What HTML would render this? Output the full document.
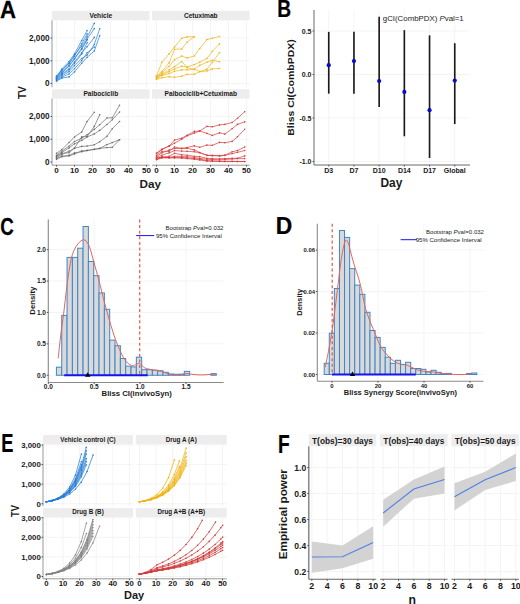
<!DOCTYPE html>
<html><head><meta charset="utf-8"><style>
html,body{margin:0;padding:0;background:#fff;width:520px;height:604px;overflow:hidden;}
svg{display:block;}
text{font-family:"Liberation Sans",sans-serif;}
</style></head><body>
<svg width="520" height="604" viewBox="0 0 520 604">
<rect width="520" height="604" fill="#fff"/>
<text x="0" y="0" font-size="23.837" font-weight="bold" fill="#000" stroke="#000" stroke-width="0.25" transform="translate(-0.06 17.50) scale(0.9316 1)">A</text>
<rect x="52.00" y="10.90" width="97.60" height="9.50" fill="#ededed" stroke="none" stroke-width="0"/>
<text x="100.8" y="18.2" font-size="6.6" font-weight="bold" text-anchor="middle" fill="#1a1a1a">Vehicle</text>
<line x1="56.50" y1="20.40" x2="56.50" y2="87.20" stroke="#ececec" stroke-width="0.6"/>
<line x1="74.50" y1="20.40" x2="74.50" y2="87.20" stroke="#ececec" stroke-width="0.6"/>
<line x1="92.50" y1="20.40" x2="92.50" y2="87.20" stroke="#ececec" stroke-width="0.6"/>
<line x1="110.50" y1="20.40" x2="110.50" y2="87.20" stroke="#ececec" stroke-width="0.6"/>
<line x1="128.50" y1="20.40" x2="128.50" y2="87.20" stroke="#ececec" stroke-width="0.6"/>
<line x1="146.50" y1="20.40" x2="146.50" y2="87.20" stroke="#ececec" stroke-width="0.6"/>
<line x1="52.00" y1="83.50" x2="149.60" y2="83.50" stroke="#ececec" stroke-width="0.6"/>
<line x1="52.00" y1="60.75" x2="149.60" y2="60.75" stroke="#ececec" stroke-width="0.6"/>
<line x1="52.00" y1="38.00" x2="149.60" y2="38.00" stroke="#ececec" stroke-width="0.6"/>
<line x1="52.00" y1="20.40" x2="52.00" y2="87.20" stroke="#8c8c8c" stroke-width="0.9"/>
<line x1="50.50" y1="83.50" x2="52.00" y2="83.50" stroke="#333" stroke-width="0.8"/>
<text x="49.5" y="86.4" font-size="8.2" font-weight="bold" text-anchor="end" fill="#1a1a1a">0</text>
<line x1="50.50" y1="60.75" x2="52.00" y2="60.75" stroke="#333" stroke-width="0.8"/>
<text x="49.5" y="63.65" font-size="8.2" font-weight="bold" text-anchor="end" fill="#1a1a1a">1,000</text>
<line x1="50.50" y1="38.00" x2="52.00" y2="38.00" stroke="#333" stroke-width="0.8"/>
<text x="49.5" y="40.9" font-size="8.2" font-weight="bold" text-anchor="end" fill="#1a1a1a">2,000</text>
<polyline points="56.50,76.67 61.90,68.94 69.10,61.43 74.50,53.92 81.70,40.50 87.10,30.61" fill="none" stroke="#2a7fd4" stroke-width="0.7"/>
<circle cx="56.50" cy="76.67" r="0.8" fill="#2a7fd4"/>
<circle cx="61.90" cy="68.94" r="0.8" fill="#2a7fd4"/>
<circle cx="69.10" cy="61.43" r="0.8" fill="#2a7fd4"/>
<circle cx="74.50" cy="53.92" r="0.8" fill="#2a7fd4"/>
<circle cx="81.70" cy="40.50" r="0.8" fill="#2a7fd4"/>
<circle cx="87.10" cy="30.61" r="0.8" fill="#2a7fd4"/>
<polyline points="56.50,77.13 61.90,70.76 69.10,63.48 74.50,56.20 81.70,43.69 87.10,33.91" fill="none" stroke="#2a7fd4" stroke-width="0.7"/>
<circle cx="56.50" cy="77.13" r="0.8" fill="#2a7fd4"/>
<circle cx="61.90" cy="70.76" r="0.8" fill="#2a7fd4"/>
<circle cx="69.10" cy="63.48" r="0.8" fill="#2a7fd4"/>
<circle cx="74.50" cy="56.20" r="0.8" fill="#2a7fd4"/>
<circle cx="81.70" cy="43.69" r="0.8" fill="#2a7fd4"/>
<circle cx="87.10" cy="33.91" r="0.8" fill="#2a7fd4"/>
<polyline points="56.50,75.99 61.90,69.85 69.10,63.03 74.50,55.06 81.70,45.96 87.10,36.86 94.30,23.39" fill="none" stroke="#2a7fd4" stroke-width="0.7"/>
<circle cx="56.50" cy="75.99" r="0.8" fill="#2a7fd4"/>
<circle cx="61.90" cy="69.85" r="0.8" fill="#2a7fd4"/>
<circle cx="69.10" cy="63.03" r="0.8" fill="#2a7fd4"/>
<circle cx="74.50" cy="55.06" r="0.8" fill="#2a7fd4"/>
<circle cx="81.70" cy="45.96" r="0.8" fill="#2a7fd4"/>
<circle cx="87.10" cy="36.86" r="0.8" fill="#2a7fd4"/>
<circle cx="94.30" cy="23.39" r="0.8" fill="#2a7fd4"/>
<polyline points="56.50,77.81 61.90,72.12 69.10,65.30 74.50,58.48 81.70,48.24 87.10,39.14 94.30,28.60" fill="none" stroke="#2a7fd4" stroke-width="0.7"/>
<circle cx="56.50" cy="77.81" r="0.8" fill="#2a7fd4"/>
<circle cx="61.90" cy="72.12" r="0.8" fill="#2a7fd4"/>
<circle cx="69.10" cy="65.30" r="0.8" fill="#2a7fd4"/>
<circle cx="74.50" cy="58.48" r="0.8" fill="#2a7fd4"/>
<circle cx="81.70" cy="48.24" r="0.8" fill="#2a7fd4"/>
<circle cx="87.10" cy="39.14" r="0.8" fill="#2a7fd4"/>
<circle cx="94.30" cy="28.60" r="0.8" fill="#2a7fd4"/>
<polyline points="56.50,78.95 61.90,73.94 69.10,68.71 74.50,61.89 81.70,52.79 87.10,46.80 94.30,37.41" fill="none" stroke="#2a7fd4" stroke-width="0.7"/>
<circle cx="56.50" cy="78.95" r="0.8" fill="#2a7fd4"/>
<circle cx="61.90" cy="73.94" r="0.8" fill="#2a7fd4"/>
<circle cx="69.10" cy="68.71" r="0.8" fill="#2a7fd4"/>
<circle cx="74.50" cy="61.89" r="0.8" fill="#2a7fd4"/>
<circle cx="81.70" cy="52.79" r="0.8" fill="#2a7fd4"/>
<circle cx="87.10" cy="46.80" r="0.8" fill="#2a7fd4"/>
<circle cx="94.30" cy="37.41" r="0.8" fill="#2a7fd4"/>
<polyline points="56.50,79.86 61.90,75.99 69.10,71.67 74.50,65.75 81.70,58.48 87.10,55.11 94.30,44.51 99.70,28.70" fill="none" stroke="#2a7fd4" stroke-width="0.7"/>
<circle cx="56.50" cy="79.86" r="0.8" fill="#2a7fd4"/>
<circle cx="61.90" cy="75.99" r="0.8" fill="#2a7fd4"/>
<circle cx="69.10" cy="71.67" r="0.8" fill="#2a7fd4"/>
<circle cx="74.50" cy="65.75" r="0.8" fill="#2a7fd4"/>
<circle cx="81.70" cy="58.48" r="0.8" fill="#2a7fd4"/>
<circle cx="87.10" cy="55.11" r="0.8" fill="#2a7fd4"/>
<circle cx="94.30" cy="44.51" r="0.8" fill="#2a7fd4"/>
<circle cx="99.70" cy="28.70" r="0.8" fill="#2a7fd4"/>
<polyline points="56.50,81.22 61.90,78.20 69.10,76.90 74.50,71.90 81.70,63.21 87.10,57.34 94.30,50.99 99.70,35.70" fill="none" stroke="#2a7fd4" stroke-width="0.7"/>
<circle cx="56.50" cy="81.22" r="0.8" fill="#2a7fd4"/>
<circle cx="61.90" cy="78.20" r="0.8" fill="#2a7fd4"/>
<circle cx="69.10" cy="76.90" r="0.8" fill="#2a7fd4"/>
<circle cx="74.50" cy="71.90" r="0.8" fill="#2a7fd4"/>
<circle cx="81.70" cy="63.21" r="0.8" fill="#2a7fd4"/>
<circle cx="87.10" cy="57.34" r="0.8" fill="#2a7fd4"/>
<circle cx="94.30" cy="50.99" r="0.8" fill="#2a7fd4"/>
<circle cx="99.70" cy="35.70" r="0.8" fill="#2a7fd4"/>
<polyline points="56.50,78.27 61.90,73.03 69.10,66.21 74.50,58.93 81.70,49.38 87.10,39.91" fill="none" stroke="#2a7fd4" stroke-width="0.7"/>
<circle cx="56.50" cy="78.27" r="0.8" fill="#2a7fd4"/>
<circle cx="61.90" cy="73.03" r="0.8" fill="#2a7fd4"/>
<circle cx="69.10" cy="66.21" r="0.8" fill="#2a7fd4"/>
<circle cx="74.50" cy="58.93" r="0.8" fill="#2a7fd4"/>
<circle cx="81.70" cy="49.38" r="0.8" fill="#2a7fd4"/>
<circle cx="87.10" cy="39.91" r="0.8" fill="#2a7fd4"/>
<polyline points="56.50,79.41 61.90,74.86 69.10,69.85 74.50,63.48 81.70,53.92 87.10,42.80" fill="none" stroke="#2a7fd4" stroke-width="0.7"/>
<circle cx="56.50" cy="79.41" r="0.8" fill="#2a7fd4"/>
<circle cx="61.90" cy="74.86" r="0.8" fill="#2a7fd4"/>
<circle cx="69.10" cy="69.85" r="0.8" fill="#2a7fd4"/>
<circle cx="74.50" cy="63.48" r="0.8" fill="#2a7fd4"/>
<circle cx="81.70" cy="53.92" r="0.8" fill="#2a7fd4"/>
<circle cx="87.10" cy="42.80" r="0.8" fill="#2a7fd4"/>
<polyline points="56.50,80.54 61.90,77.13 69.10,73.94 74.50,68.71 81.70,60.75 87.10,52.79 94.30,47.10" fill="none" stroke="#2a7fd4" stroke-width="0.7"/>
<circle cx="56.50" cy="80.54" r="0.8" fill="#2a7fd4"/>
<circle cx="61.90" cy="77.13" r="0.8" fill="#2a7fd4"/>
<circle cx="69.10" cy="73.94" r="0.8" fill="#2a7fd4"/>
<circle cx="74.50" cy="68.71" r="0.8" fill="#2a7fd4"/>
<circle cx="81.70" cy="60.75" r="0.8" fill="#2a7fd4"/>
<circle cx="87.10" cy="52.79" r="0.8" fill="#2a7fd4"/>
<circle cx="94.30" cy="47.10" r="0.8" fill="#2a7fd4"/>
<rect x="152.00" y="10.90" width="97.60" height="9.50" fill="#ededed" stroke="none" stroke-width="0"/>
<text x="200.8" y="18.2" font-size="6.6" font-weight="bold" text-anchor="middle" fill="#1a1a1a">Cetuximab</text>
<line x1="156.50" y1="20.40" x2="156.50" y2="87.20" stroke="#ececec" stroke-width="0.6"/>
<line x1="174.50" y1="20.40" x2="174.50" y2="87.20" stroke="#ececec" stroke-width="0.6"/>
<line x1="192.50" y1="20.40" x2="192.50" y2="87.20" stroke="#ececec" stroke-width="0.6"/>
<line x1="210.50" y1="20.40" x2="210.50" y2="87.20" stroke="#ececec" stroke-width="0.6"/>
<line x1="228.50" y1="20.40" x2="228.50" y2="87.20" stroke="#ececec" stroke-width="0.6"/>
<line x1="246.50" y1="20.40" x2="246.50" y2="87.20" stroke="#ececec" stroke-width="0.6"/>
<line x1="152.00" y1="83.50" x2="249.60" y2="83.50" stroke="#ececec" stroke-width="0.6"/>
<line x1="152.00" y1="60.75" x2="249.60" y2="60.75" stroke="#ececec" stroke-width="0.6"/>
<line x1="152.00" y1="38.00" x2="249.60" y2="38.00" stroke="#ececec" stroke-width="0.6"/>
<polyline points="156.50,75.90 161.90,62.30 169.10,53.90 174.50,47.01 181.70,38.30 187.10,36.86 194.30,36.70" fill="none" stroke="#eeb414" stroke-width="0.7"/>
<circle cx="156.50" cy="75.90" r="0.8" fill="#eeb414"/>
<circle cx="161.90" cy="62.30" r="0.8" fill="#eeb414"/>
<circle cx="169.10" cy="53.90" r="0.8" fill="#eeb414"/>
<circle cx="174.50" cy="47.01" r="0.8" fill="#eeb414"/>
<circle cx="181.70" cy="38.30" r="0.8" fill="#eeb414"/>
<circle cx="187.10" cy="36.86" r="0.8" fill="#eeb414"/>
<circle cx="194.30" cy="36.70" r="0.8" fill="#eeb414"/>
<polyline points="156.50,76.38 161.90,71.60 169.10,62.91 174.50,49.31 181.70,49.01 187.10,42.09 194.30,36.70" fill="none" stroke="#eeb414" stroke-width="0.7"/>
<circle cx="156.50" cy="76.38" r="0.8" fill="#eeb414"/>
<circle cx="161.90" cy="71.60" r="0.8" fill="#eeb414"/>
<circle cx="169.10" cy="62.91" r="0.8" fill="#eeb414"/>
<circle cx="174.50" cy="49.31" r="0.8" fill="#eeb414"/>
<circle cx="181.70" cy="49.01" r="0.8" fill="#eeb414"/>
<circle cx="187.10" cy="42.09" r="0.8" fill="#eeb414"/>
<circle cx="194.30" cy="36.70" r="0.8" fill="#eeb414"/>
<polyline points="156.50,76.90 161.90,72.58 169.10,66.44 174.50,59.70 181.70,56.00 187.10,57.91 194.30,56.00 199.70,48.51 206.90,39.59 212.30,38.20 219.50,36.50" fill="none" stroke="#eeb414" stroke-width="0.7"/>
<circle cx="156.50" cy="76.90" r="0.8" fill="#eeb414"/>
<circle cx="161.90" cy="72.58" r="0.8" fill="#eeb414"/>
<circle cx="169.10" cy="66.44" r="0.8" fill="#eeb414"/>
<circle cx="174.50" cy="59.70" r="0.8" fill="#eeb414"/>
<circle cx="181.70" cy="56.00" r="0.8" fill="#eeb414"/>
<circle cx="187.10" cy="57.91" r="0.8" fill="#eeb414"/>
<circle cx="194.30" cy="56.00" r="0.8" fill="#eeb414"/>
<circle cx="199.70" cy="48.51" r="0.8" fill="#eeb414"/>
<circle cx="206.90" cy="39.59" r="0.8" fill="#eeb414"/>
<circle cx="212.30" cy="38.20" r="0.8" fill="#eeb414"/>
<circle cx="219.50" cy="36.50" r="0.8" fill="#eeb414"/>
<polyline points="156.50,77.58 161.90,73.94 169.10,69.85 174.50,66.60 181.70,61.50 187.10,67.58 194.30,69.39 199.70,65.39 206.90,62.21 212.30,60.30 219.50,61.71" fill="none" stroke="#eeb414" stroke-width="0.7"/>
<circle cx="156.50" cy="77.58" r="0.8" fill="#eeb414"/>
<circle cx="161.90" cy="73.94" r="0.8" fill="#eeb414"/>
<circle cx="169.10" cy="69.85" r="0.8" fill="#eeb414"/>
<circle cx="174.50" cy="66.60" r="0.8" fill="#eeb414"/>
<circle cx="181.70" cy="61.50" r="0.8" fill="#eeb414"/>
<circle cx="187.10" cy="67.58" r="0.8" fill="#eeb414"/>
<circle cx="194.30" cy="69.39" r="0.8" fill="#eeb414"/>
<circle cx="199.70" cy="65.39" r="0.8" fill="#eeb414"/>
<circle cx="206.90" cy="62.21" r="0.8" fill="#eeb414"/>
<circle cx="212.30" cy="60.30" r="0.8" fill="#eeb414"/>
<circle cx="219.50" cy="61.71" r="0.8" fill="#eeb414"/>
<polyline points="156.50,78.04 161.90,74.86 169.10,71.67 174.50,68.94 181.70,66.21 187.10,67.01 194.30,64.59 199.70,62.21 206.90,58.41 212.30,51.31 219.50,43.89" fill="none" stroke="#eeb414" stroke-width="0.7"/>
<circle cx="156.50" cy="78.04" r="0.8" fill="#eeb414"/>
<circle cx="161.90" cy="74.86" r="0.8" fill="#eeb414"/>
<circle cx="169.10" cy="71.67" r="0.8" fill="#eeb414"/>
<circle cx="174.50" cy="68.94" r="0.8" fill="#eeb414"/>
<circle cx="181.70" cy="66.21" r="0.8" fill="#eeb414"/>
<circle cx="187.10" cy="67.01" r="0.8" fill="#eeb414"/>
<circle cx="194.30" cy="64.59" r="0.8" fill="#eeb414"/>
<circle cx="199.70" cy="62.21" r="0.8" fill="#eeb414"/>
<circle cx="206.90" cy="58.41" r="0.8" fill="#eeb414"/>
<circle cx="212.30" cy="51.31" r="0.8" fill="#eeb414"/>
<circle cx="219.50" cy="43.89" r="0.8" fill="#eeb414"/>
<polyline points="156.50,78.50 161.90,75.54 169.10,73.60 174.50,71.31 181.70,69.90 187.10,69.85 194.30,69.39 199.70,71.51 206.90,69.19 212.30,62.21 219.50,52.61" fill="none" stroke="#eeb414" stroke-width="0.7"/>
<circle cx="156.50" cy="78.50" r="0.8" fill="#eeb414"/>
<circle cx="161.90" cy="75.54" r="0.8" fill="#eeb414"/>
<circle cx="169.10" cy="73.60" r="0.8" fill="#eeb414"/>
<circle cx="174.50" cy="71.31" r="0.8" fill="#eeb414"/>
<circle cx="181.70" cy="69.90" r="0.8" fill="#eeb414"/>
<circle cx="187.10" cy="69.85" r="0.8" fill="#eeb414"/>
<circle cx="194.30" cy="69.39" r="0.8" fill="#eeb414"/>
<circle cx="199.70" cy="71.51" r="0.8" fill="#eeb414"/>
<circle cx="206.90" cy="69.19" r="0.8" fill="#eeb414"/>
<circle cx="212.30" cy="62.21" r="0.8" fill="#eeb414"/>
<circle cx="219.50" cy="52.61" r="0.8" fill="#eeb414"/>
<polyline points="156.50,79.41 161.90,77.81 169.10,76.67 174.50,77.29 181.70,76.20 187.10,74.40 194.30,74.20 199.70,71.81 206.90,70.90 212.30,68.89 219.50,68.51" fill="none" stroke="#eeb414" stroke-width="0.7"/>
<circle cx="156.50" cy="79.41" r="0.8" fill="#eeb414"/>
<circle cx="161.90" cy="77.81" r="0.8" fill="#eeb414"/>
<circle cx="169.10" cy="76.67" r="0.8" fill="#eeb414"/>
<circle cx="174.50" cy="77.29" r="0.8" fill="#eeb414"/>
<circle cx="181.70" cy="76.20" r="0.8" fill="#eeb414"/>
<circle cx="187.10" cy="74.40" r="0.8" fill="#eeb414"/>
<circle cx="194.30" cy="74.20" r="0.8" fill="#eeb414"/>
<circle cx="199.70" cy="71.81" r="0.8" fill="#eeb414"/>
<circle cx="206.90" cy="70.90" r="0.8" fill="#eeb414"/>
<circle cx="212.30" cy="68.89" r="0.8" fill="#eeb414"/>
<circle cx="219.50" cy="68.51" r="0.8" fill="#eeb414"/>
<rect x="52.00" y="89.30" width="97.60" height="9.30" fill="#ededed" stroke="none" stroke-width="0"/>
<text x="100.8" y="96.39999999999999" font-size="6.6" font-weight="bold" text-anchor="middle" fill="#1a1a1a">Palbociclib</text>
<line x1="56.50" y1="98.60" x2="56.50" y2="165.20" stroke="#ececec" stroke-width="0.6"/>
<line x1="74.50" y1="98.60" x2="74.50" y2="165.20" stroke="#ececec" stroke-width="0.6"/>
<line x1="92.50" y1="98.60" x2="92.50" y2="165.20" stroke="#ececec" stroke-width="0.6"/>
<line x1="110.50" y1="98.60" x2="110.50" y2="165.20" stroke="#ececec" stroke-width="0.6"/>
<line x1="128.50" y1="98.60" x2="128.50" y2="165.20" stroke="#ececec" stroke-width="0.6"/>
<line x1="146.50" y1="98.60" x2="146.50" y2="165.20" stroke="#ececec" stroke-width="0.6"/>
<line x1="52.00" y1="162.00" x2="149.60" y2="162.00" stroke="#ececec" stroke-width="0.6"/>
<line x1="52.00" y1="139.25" x2="149.60" y2="139.25" stroke="#ececec" stroke-width="0.6"/>
<line x1="52.00" y1="116.50" x2="149.60" y2="116.50" stroke="#ececec" stroke-width="0.6"/>
<line x1="52.00" y1="98.60" x2="52.00" y2="165.20" stroke="#8c8c8c" stroke-width="0.9"/>
<line x1="50.50" y1="162.00" x2="52.00" y2="162.00" stroke="#333" stroke-width="0.8"/>
<text x="49.5" y="164.9" font-size="8.2" font-weight="bold" text-anchor="end" fill="#1a1a1a">0</text>
<line x1="50.50" y1="139.25" x2="52.00" y2="139.25" stroke="#333" stroke-width="0.8"/>
<text x="49.5" y="142.15" font-size="8.2" font-weight="bold" text-anchor="end" fill="#1a1a1a">1,000</text>
<line x1="50.50" y1="116.50" x2="52.00" y2="116.50" stroke="#333" stroke-width="0.8"/>
<text x="49.5" y="119.4" font-size="8.2" font-weight="bold" text-anchor="end" fill="#1a1a1a">2,000</text>
<line x1="52.00" y1="165.20" x2="149.60" y2="165.20" stroke="#8c8c8c" stroke-width="0.9"/>
<line x1="56.50" y1="165.20" x2="56.50" y2="166.70" stroke="#333" stroke-width="0.8"/>
<text x="56.5" y="172.89999999999998" font-size="8.0" font-weight="bold" text-anchor="middle" fill="#1a1a1a">0</text>
<line x1="74.50" y1="165.20" x2="74.50" y2="166.70" stroke="#333" stroke-width="0.8"/>
<text x="74.5" y="172.89999999999998" font-size="8.0" font-weight="bold" text-anchor="middle" fill="#1a1a1a">10</text>
<line x1="92.50" y1="165.20" x2="92.50" y2="166.70" stroke="#333" stroke-width="0.8"/>
<text x="92.5" y="172.89999999999998" font-size="8.0" font-weight="bold" text-anchor="middle" fill="#1a1a1a">20</text>
<line x1="110.50" y1="165.20" x2="110.50" y2="166.70" stroke="#333" stroke-width="0.8"/>
<text x="110.5" y="172.89999999999998" font-size="8.0" font-weight="bold" text-anchor="middle" fill="#1a1a1a">30</text>
<line x1="128.50" y1="165.20" x2="128.50" y2="166.70" stroke="#333" stroke-width="0.8"/>
<text x="128.5" y="172.89999999999998" font-size="8.0" font-weight="bold" text-anchor="middle" fill="#1a1a1a">40</text>
<line x1="146.50" y1="165.20" x2="146.50" y2="166.70" stroke="#333" stroke-width="0.8"/>
<text x="146.5" y="172.89999999999998" font-size="8.0" font-weight="bold" text-anchor="middle" fill="#1a1a1a">50</text>
<polyline points="56.50,153.35 61.90,149.49 69.10,142.44 74.50,136.97 81.70,131.97 87.10,121.50 94.30,112.18" fill="none" stroke="#6b6b6b" stroke-width="0.7"/>
<circle cx="56.50" cy="153.35" r="0.8" fill="#6b6b6b"/>
<circle cx="61.90" cy="149.49" r="0.8" fill="#6b6b6b"/>
<circle cx="69.10" cy="142.44" r="0.8" fill="#6b6b6b"/>
<circle cx="74.50" cy="136.97" r="0.8" fill="#6b6b6b"/>
<circle cx="81.70" cy="131.97" r="0.8" fill="#6b6b6b"/>
<circle cx="87.10" cy="121.50" r="0.8" fill="#6b6b6b"/>
<circle cx="94.30" cy="112.18" r="0.8" fill="#6b6b6b"/>
<polyline points="56.50,156.20 61.90,153.31 69.10,152.81 74.50,148.01 81.70,136.91 87.10,136.50 94.30,126.40 99.70,114.79" fill="none" stroke="#6b6b6b" stroke-width="0.7"/>
<circle cx="56.50" cy="156.20" r="0.8" fill="#6b6b6b"/>
<circle cx="61.90" cy="153.31" r="0.8" fill="#6b6b6b"/>
<circle cx="69.10" cy="152.81" r="0.8" fill="#6b6b6b"/>
<circle cx="74.50" cy="148.01" r="0.8" fill="#6b6b6b"/>
<circle cx="81.70" cy="136.91" r="0.8" fill="#6b6b6b"/>
<circle cx="87.10" cy="136.50" r="0.8" fill="#6b6b6b"/>
<circle cx="94.30" cy="126.40" r="0.8" fill="#6b6b6b"/>
<circle cx="99.70" cy="114.79" r="0.8" fill="#6b6b6b"/>
<polyline points="56.50,155.18 61.90,151.08 69.10,146.07 74.50,141.53 81.70,138.11 87.10,134.70 94.30,129.40 99.70,124.80 106.90,118.00 112.30,117.80 119.50,105.31" fill="none" stroke="#6b6b6b" stroke-width="0.7"/>
<circle cx="56.50" cy="155.18" r="0.8" fill="#6b6b6b"/>
<circle cx="61.90" cy="151.08" r="0.8" fill="#6b6b6b"/>
<circle cx="69.10" cy="146.07" r="0.8" fill="#6b6b6b"/>
<circle cx="74.50" cy="141.53" r="0.8" fill="#6b6b6b"/>
<circle cx="81.70" cy="138.11" r="0.8" fill="#6b6b6b"/>
<circle cx="87.10" cy="134.70" r="0.8" fill="#6b6b6b"/>
<circle cx="94.30" cy="129.40" r="0.8" fill="#6b6b6b"/>
<circle cx="99.70" cy="124.80" r="0.8" fill="#6b6b6b"/>
<circle cx="106.90" cy="118.00" r="0.8" fill="#6b6b6b"/>
<circle cx="112.30" cy="117.80" r="0.8" fill="#6b6b6b"/>
<circle cx="119.50" cy="105.31" r="0.8" fill="#6b6b6b"/>
<polyline points="56.50,156.31 61.90,152.44 69.10,147.90 74.50,143.80 81.70,140.39 87.10,136.97 94.30,133.90 99.70,130.40 106.90,124.51 112.30,119.80 119.50,112.00" fill="none" stroke="#6b6b6b" stroke-width="0.7"/>
<circle cx="56.50" cy="156.31" r="0.8" fill="#6b6b6b"/>
<circle cx="61.90" cy="152.44" r="0.8" fill="#6b6b6b"/>
<circle cx="69.10" cy="147.90" r="0.8" fill="#6b6b6b"/>
<circle cx="74.50" cy="143.80" r="0.8" fill="#6b6b6b"/>
<circle cx="81.70" cy="140.39" r="0.8" fill="#6b6b6b"/>
<circle cx="87.10" cy="136.97" r="0.8" fill="#6b6b6b"/>
<circle cx="94.30" cy="133.90" r="0.8" fill="#6b6b6b"/>
<circle cx="99.70" cy="130.40" r="0.8" fill="#6b6b6b"/>
<circle cx="106.90" cy="124.51" r="0.8" fill="#6b6b6b"/>
<circle cx="112.30" cy="119.80" r="0.8" fill="#6b6b6b"/>
<circle cx="119.50" cy="112.00" r="0.8" fill="#6b6b6b"/>
<polyline points="56.50,157.45 61.90,154.49 69.10,151.08 74.50,148.35 81.70,146.39 87.10,146.07 94.30,144.80 99.70,141.71 106.90,136.41 112.30,128.69 119.50,121.50" fill="none" stroke="#6b6b6b" stroke-width="0.7"/>
<circle cx="56.50" cy="157.45" r="0.8" fill="#6b6b6b"/>
<circle cx="61.90" cy="154.49" r="0.8" fill="#6b6b6b"/>
<circle cx="69.10" cy="151.08" r="0.8" fill="#6b6b6b"/>
<circle cx="74.50" cy="148.35" r="0.8" fill="#6b6b6b"/>
<circle cx="81.70" cy="146.39" r="0.8" fill="#6b6b6b"/>
<circle cx="87.10" cy="146.07" r="0.8" fill="#6b6b6b"/>
<circle cx="94.30" cy="144.80" r="0.8" fill="#6b6b6b"/>
<circle cx="99.70" cy="141.71" r="0.8" fill="#6b6b6b"/>
<circle cx="106.90" cy="136.41" r="0.8" fill="#6b6b6b"/>
<circle cx="112.30" cy="128.69" r="0.8" fill="#6b6b6b"/>
<circle cx="119.50" cy="121.50" r="0.8" fill="#6b6b6b"/>
<polyline points="56.50,158.59 61.90,155.99 69.10,155.99 74.50,154.04 81.70,150.90 87.10,150.40 94.30,149.31 99.70,148.60 106.90,144.60 112.30,142.59 119.50,139.71" fill="none" stroke="#6b6b6b" stroke-width="0.7"/>
<circle cx="56.50" cy="158.59" r="0.8" fill="#6b6b6b"/>
<circle cx="61.90" cy="155.99" r="0.8" fill="#6b6b6b"/>
<circle cx="69.10" cy="155.99" r="0.8" fill="#6b6b6b"/>
<circle cx="74.50" cy="154.04" r="0.8" fill="#6b6b6b"/>
<circle cx="81.70" cy="150.90" r="0.8" fill="#6b6b6b"/>
<circle cx="87.10" cy="150.40" r="0.8" fill="#6b6b6b"/>
<circle cx="94.30" cy="149.31" r="0.8" fill="#6b6b6b"/>
<circle cx="99.70" cy="148.60" r="0.8" fill="#6b6b6b"/>
<circle cx="106.90" cy="144.60" r="0.8" fill="#6b6b6b"/>
<circle cx="112.30" cy="142.59" r="0.8" fill="#6b6b6b"/>
<circle cx="119.50" cy="139.71" r="0.8" fill="#6b6b6b"/>
<polyline points="56.50,159.27 61.90,156.77 69.10,155.18 74.50,152.90 81.70,151.76 87.10,150.62 94.30,149.40 99.70,148.30 106.90,147.60 112.30,147.30 119.50,139.71" fill="none" stroke="#6b6b6b" stroke-width="0.7"/>
<circle cx="56.50" cy="159.27" r="0.8" fill="#6b6b6b"/>
<circle cx="61.90" cy="156.77" r="0.8" fill="#6b6b6b"/>
<circle cx="69.10" cy="155.18" r="0.8" fill="#6b6b6b"/>
<circle cx="74.50" cy="152.90" r="0.8" fill="#6b6b6b"/>
<circle cx="81.70" cy="151.76" r="0.8" fill="#6b6b6b"/>
<circle cx="87.10" cy="150.62" r="0.8" fill="#6b6b6b"/>
<circle cx="94.30" cy="149.40" r="0.8" fill="#6b6b6b"/>
<circle cx="99.70" cy="148.30" r="0.8" fill="#6b6b6b"/>
<circle cx="106.90" cy="147.60" r="0.8" fill="#6b6b6b"/>
<circle cx="112.30" cy="147.30" r="0.8" fill="#6b6b6b"/>
<circle cx="119.50" cy="139.71" r="0.8" fill="#6b6b6b"/>
<rect x="152.00" y="89.30" width="97.60" height="9.30" fill="#ededed" stroke="none" stroke-width="0"/>
<text x="200.8" y="96.39999999999999" font-size="6.6" font-weight="bold" text-anchor="middle" fill="#1a1a1a">Palbociclib+Cetuximab</text>
<line x1="156.50" y1="98.60" x2="156.50" y2="165.20" stroke="#ececec" stroke-width="0.6"/>
<line x1="174.50" y1="98.60" x2="174.50" y2="165.20" stroke="#ececec" stroke-width="0.6"/>
<line x1="192.50" y1="98.60" x2="192.50" y2="165.20" stroke="#ececec" stroke-width="0.6"/>
<line x1="210.50" y1="98.60" x2="210.50" y2="165.20" stroke="#ececec" stroke-width="0.6"/>
<line x1="228.50" y1="98.60" x2="228.50" y2="165.20" stroke="#ececec" stroke-width="0.6"/>
<line x1="246.50" y1="98.60" x2="246.50" y2="165.20" stroke="#ececec" stroke-width="0.6"/>
<line x1="152.00" y1="162.00" x2="249.60" y2="162.00" stroke="#ececec" stroke-width="0.6"/>
<line x1="152.00" y1="139.25" x2="249.60" y2="139.25" stroke="#ececec" stroke-width="0.6"/>
<line x1="152.00" y1="116.50" x2="249.60" y2="116.50" stroke="#ececec" stroke-width="0.6"/>
<line x1="152.00" y1="165.20" x2="249.60" y2="165.20" stroke="#8c8c8c" stroke-width="0.9"/>
<line x1="156.50" y1="165.20" x2="156.50" y2="166.70" stroke="#333" stroke-width="0.8"/>
<text x="156.5" y="172.89999999999998" font-size="8.0" font-weight="bold" text-anchor="middle" fill="#1a1a1a">0</text>
<line x1="174.50" y1="165.20" x2="174.50" y2="166.70" stroke="#333" stroke-width="0.8"/>
<text x="174.5" y="172.89999999999998" font-size="8.0" font-weight="bold" text-anchor="middle" fill="#1a1a1a">10</text>
<line x1="192.50" y1="165.20" x2="192.50" y2="166.70" stroke="#333" stroke-width="0.8"/>
<text x="192.5" y="172.89999999999998" font-size="8.0" font-weight="bold" text-anchor="middle" fill="#1a1a1a">20</text>
<line x1="210.50" y1="165.20" x2="210.50" y2="166.70" stroke="#333" stroke-width="0.8"/>
<text x="210.5" y="172.89999999999998" font-size="8.0" font-weight="bold" text-anchor="middle" fill="#1a1a1a">30</text>
<line x1="228.50" y1="165.20" x2="228.50" y2="166.70" stroke="#333" stroke-width="0.8"/>
<text x="228.5" y="172.89999999999998" font-size="8.0" font-weight="bold" text-anchor="middle" fill="#1a1a1a">40</text>
<line x1="246.50" y1="165.20" x2="246.50" y2="166.70" stroke="#333" stroke-width="0.8"/>
<text x="246.5" y="172.89999999999998" font-size="8.0" font-weight="bold" text-anchor="middle" fill="#1a1a1a">50</text>
<polyline points="156.50,153.31 161.90,149.40 169.10,146.10 174.50,140.09 181.70,138.20 187.10,135.29 194.30,131.40 199.70,130.99 206.90,126.40 212.30,126.81 219.50,124.89 224.90,124.39 232.10,122.51 237.50,118.30 244.70,111.70" fill="none" stroke="#d23c3c" stroke-width="0.7"/>
<circle cx="156.50" cy="153.31" r="0.8" fill="#d23c3c"/>
<circle cx="161.90" cy="149.40" r="0.8" fill="#d23c3c"/>
<circle cx="169.10" cy="146.10" r="0.8" fill="#d23c3c"/>
<circle cx="174.50" cy="140.09" r="0.8" fill="#d23c3c"/>
<circle cx="181.70" cy="138.20" r="0.8" fill="#d23c3c"/>
<circle cx="187.10" cy="135.29" r="0.8" fill="#d23c3c"/>
<circle cx="194.30" cy="131.40" r="0.8" fill="#d23c3c"/>
<circle cx="199.70" cy="130.99" r="0.8" fill="#d23c3c"/>
<circle cx="206.90" cy="126.40" r="0.8" fill="#d23c3c"/>
<circle cx="212.30" cy="126.81" r="0.8" fill="#d23c3c"/>
<circle cx="219.50" cy="124.89" r="0.8" fill="#d23c3c"/>
<circle cx="224.90" cy="124.39" r="0.8" fill="#d23c3c"/>
<circle cx="232.10" cy="122.51" r="0.8" fill="#d23c3c"/>
<circle cx="237.50" cy="118.30" r="0.8" fill="#d23c3c"/>
<circle cx="244.70" cy="111.70" r="0.8" fill="#d23c3c"/>
<polyline points="156.50,153.31 161.90,149.40 169.10,146.10 174.50,143.21 181.70,139.25 187.10,135.84 194.30,133.11 199.70,130.99 206.90,133.40 212.30,135.41 219.50,132.90 224.90,134.11 232.10,128.69 237.50,124.39 244.70,121.89" fill="none" stroke="#d23c3c" stroke-width="0.7"/>
<circle cx="156.50" cy="153.31" r="0.8" fill="#d23c3c"/>
<circle cx="161.90" cy="149.40" r="0.8" fill="#d23c3c"/>
<circle cx="169.10" cy="146.10" r="0.8" fill="#d23c3c"/>
<circle cx="174.50" cy="143.21" r="0.8" fill="#d23c3c"/>
<circle cx="181.70" cy="139.25" r="0.8" fill="#d23c3c"/>
<circle cx="187.10" cy="135.84" r="0.8" fill="#d23c3c"/>
<circle cx="194.30" cy="133.11" r="0.8" fill="#d23c3c"/>
<circle cx="199.70" cy="130.99" r="0.8" fill="#d23c3c"/>
<circle cx="206.90" cy="133.40" r="0.8" fill="#d23c3c"/>
<circle cx="212.30" cy="135.41" r="0.8" fill="#d23c3c"/>
<circle cx="219.50" cy="132.90" r="0.8" fill="#d23c3c"/>
<circle cx="224.90" cy="134.11" r="0.8" fill="#d23c3c"/>
<circle cx="232.10" cy="128.69" r="0.8" fill="#d23c3c"/>
<circle cx="237.50" cy="124.39" r="0.8" fill="#d23c3c"/>
<circle cx="244.70" cy="121.89" r="0.8" fill="#d23c3c"/>
<polyline points="156.50,155.18 161.90,151.31 169.10,151.35 174.50,147.01 181.70,148.51 187.10,147.51 194.30,145.89 199.70,147.30 206.90,145.10 212.30,145.30 219.50,142.39 224.90,142.71 232.10,141.41 237.50,136.79 244.70,129.31" fill="none" stroke="#d23c3c" stroke-width="0.7"/>
<circle cx="156.50" cy="155.18" r="0.8" fill="#d23c3c"/>
<circle cx="161.90" cy="151.31" r="0.8" fill="#d23c3c"/>
<circle cx="169.10" cy="151.35" r="0.8" fill="#d23c3c"/>
<circle cx="174.50" cy="147.01" r="0.8" fill="#d23c3c"/>
<circle cx="181.70" cy="148.51" r="0.8" fill="#d23c3c"/>
<circle cx="187.10" cy="147.51" r="0.8" fill="#d23c3c"/>
<circle cx="194.30" cy="145.89" r="0.8" fill="#d23c3c"/>
<circle cx="199.70" cy="147.30" r="0.8" fill="#d23c3c"/>
<circle cx="206.90" cy="145.10" r="0.8" fill="#d23c3c"/>
<circle cx="212.30" cy="145.30" r="0.8" fill="#d23c3c"/>
<circle cx="219.50" cy="142.39" r="0.8" fill="#d23c3c"/>
<circle cx="224.90" cy="142.71" r="0.8" fill="#d23c3c"/>
<circle cx="232.10" cy="141.41" r="0.8" fill="#d23c3c"/>
<circle cx="237.50" cy="136.79" r="0.8" fill="#d23c3c"/>
<circle cx="244.70" cy="129.31" r="0.8" fill="#d23c3c"/>
<polyline points="156.50,156.31 161.90,152.90 169.10,150.17 174.50,148.51 181.70,148.35 187.10,148.35 194.30,149.90 199.70,152.49 206.90,155.40 212.30,155.70 219.50,155.90 224.90,155.40 232.10,151.81 237.50,150.51 244.70,147.10" fill="none" stroke="#d23c3c" stroke-width="0.7"/>
<circle cx="156.50" cy="156.31" r="0.8" fill="#d23c3c"/>
<circle cx="161.90" cy="152.90" r="0.8" fill="#d23c3c"/>
<circle cx="169.10" cy="150.17" r="0.8" fill="#d23c3c"/>
<circle cx="174.50" cy="148.51" r="0.8" fill="#d23c3c"/>
<circle cx="181.70" cy="148.35" r="0.8" fill="#d23c3c"/>
<circle cx="187.10" cy="148.35" r="0.8" fill="#d23c3c"/>
<circle cx="194.30" cy="149.90" r="0.8" fill="#d23c3c"/>
<circle cx="199.70" cy="152.49" r="0.8" fill="#d23c3c"/>
<circle cx="206.90" cy="155.40" r="0.8" fill="#d23c3c"/>
<circle cx="212.30" cy="155.70" r="0.8" fill="#d23c3c"/>
<circle cx="219.50" cy="155.90" r="0.8" fill="#d23c3c"/>
<circle cx="224.90" cy="155.40" r="0.8" fill="#d23c3c"/>
<circle cx="232.10" cy="151.81" r="0.8" fill="#d23c3c"/>
<circle cx="237.50" cy="150.51" r="0.8" fill="#d23c3c"/>
<circle cx="244.70" cy="147.10" r="0.8" fill="#d23c3c"/>
<polyline points="156.50,157.45 161.90,155.18 169.10,152.90 174.50,150.62 181.70,151.08 187.10,151.35 194.30,151.76 199.70,152.81 206.90,155.18 212.30,155.40 219.50,155.63 224.90,155.18 232.10,153.61 237.50,152.31 244.70,150.51" fill="none" stroke="#d23c3c" stroke-width="0.7"/>
<circle cx="156.50" cy="157.45" r="0.8" fill="#d23c3c"/>
<circle cx="161.90" cy="155.18" r="0.8" fill="#d23c3c"/>
<circle cx="169.10" cy="152.90" r="0.8" fill="#d23c3c"/>
<circle cx="174.50" cy="150.62" r="0.8" fill="#d23c3c"/>
<circle cx="181.70" cy="151.08" r="0.8" fill="#d23c3c"/>
<circle cx="187.10" cy="151.35" r="0.8" fill="#d23c3c"/>
<circle cx="194.30" cy="151.76" r="0.8" fill="#d23c3c"/>
<circle cx="199.70" cy="152.81" r="0.8" fill="#d23c3c"/>
<circle cx="206.90" cy="155.18" r="0.8" fill="#d23c3c"/>
<circle cx="212.30" cy="155.40" r="0.8" fill="#d23c3c"/>
<circle cx="219.50" cy="155.63" r="0.8" fill="#d23c3c"/>
<circle cx="224.90" cy="155.18" r="0.8" fill="#d23c3c"/>
<circle cx="232.10" cy="153.61" r="0.8" fill="#d23c3c"/>
<circle cx="237.50" cy="152.31" r="0.8" fill="#d23c3c"/>
<circle cx="244.70" cy="150.51" r="0.8" fill="#d23c3c"/>
<polyline points="156.50,157.91 161.90,157.00 169.10,156.31 174.50,153.31 181.70,154.70 187.10,155.20 194.30,156.31 199.70,156.61 206.90,158.36 212.30,158.59 219.50,158.81 224.90,158.59 232.10,158.36 237.50,158.29 244.70,155.90" fill="none" stroke="#d23c3c" stroke-width="0.7"/>
<circle cx="156.50" cy="157.91" r="0.8" fill="#d23c3c"/>
<circle cx="161.90" cy="157.00" r="0.8" fill="#d23c3c"/>
<circle cx="169.10" cy="156.31" r="0.8" fill="#d23c3c"/>
<circle cx="174.50" cy="153.31" r="0.8" fill="#d23c3c"/>
<circle cx="181.70" cy="154.70" r="0.8" fill="#d23c3c"/>
<circle cx="187.10" cy="155.20" r="0.8" fill="#d23c3c"/>
<circle cx="194.30" cy="156.31" r="0.8" fill="#d23c3c"/>
<circle cx="199.70" cy="156.61" r="0.8" fill="#d23c3c"/>
<circle cx="206.90" cy="158.36" r="0.8" fill="#d23c3c"/>
<circle cx="212.30" cy="158.59" r="0.8" fill="#d23c3c"/>
<circle cx="219.50" cy="158.81" r="0.8" fill="#d23c3c"/>
<circle cx="224.90" cy="158.59" r="0.8" fill="#d23c3c"/>
<circle cx="232.10" cy="158.36" r="0.8" fill="#d23c3c"/>
<circle cx="237.50" cy="158.29" r="0.8" fill="#d23c3c"/>
<circle cx="244.70" cy="155.90" r="0.8" fill="#d23c3c"/>
<polyline points="156.50,158.59 161.90,157.11 169.10,157.61 174.50,156.31 181.70,156.31 187.10,156.77 194.30,157.45 199.70,158.41 206.90,159.27 212.30,159.50 219.50,159.72 224.90,159.50 232.10,159.04 237.50,158.61 244.70,158.61" fill="none" stroke="#d23c3c" stroke-width="0.7"/>
<circle cx="156.50" cy="158.59" r="0.8" fill="#d23c3c"/>
<circle cx="161.90" cy="157.11" r="0.8" fill="#d23c3c"/>
<circle cx="169.10" cy="157.61" r="0.8" fill="#d23c3c"/>
<circle cx="174.50" cy="156.31" r="0.8" fill="#d23c3c"/>
<circle cx="181.70" cy="156.31" r="0.8" fill="#d23c3c"/>
<circle cx="187.10" cy="156.77" r="0.8" fill="#d23c3c"/>
<circle cx="194.30" cy="157.45" r="0.8" fill="#d23c3c"/>
<circle cx="199.70" cy="158.41" r="0.8" fill="#d23c3c"/>
<circle cx="206.90" cy="159.27" r="0.8" fill="#d23c3c"/>
<circle cx="212.30" cy="159.50" r="0.8" fill="#d23c3c"/>
<circle cx="219.50" cy="159.72" r="0.8" fill="#d23c3c"/>
<circle cx="224.90" cy="159.50" r="0.8" fill="#d23c3c"/>
<circle cx="232.10" cy="159.04" r="0.8" fill="#d23c3c"/>
<circle cx="237.50" cy="158.61" r="0.8" fill="#d23c3c"/>
<circle cx="244.70" cy="158.61" r="0.8" fill="#d23c3c"/>
<polyline points="156.50,159.27 161.90,157.45 169.10,157.45 174.50,157.45 181.70,157.45 187.10,157.91 194.30,158.59 199.70,159.11 206.90,160.63 212.30,160.86 219.50,161.09 224.90,161.32 232.10,161.32 237.50,161.43 244.70,161.50" fill="none" stroke="#d23c3c" stroke-width="0.7"/>
<circle cx="156.50" cy="159.27" r="0.8" fill="#d23c3c"/>
<circle cx="161.90" cy="157.45" r="0.8" fill="#d23c3c"/>
<circle cx="169.10" cy="157.45" r="0.8" fill="#d23c3c"/>
<circle cx="174.50" cy="157.45" r="0.8" fill="#d23c3c"/>
<circle cx="181.70" cy="157.45" r="0.8" fill="#d23c3c"/>
<circle cx="187.10" cy="157.91" r="0.8" fill="#d23c3c"/>
<circle cx="194.30" cy="158.59" r="0.8" fill="#d23c3c"/>
<circle cx="199.70" cy="159.11" r="0.8" fill="#d23c3c"/>
<circle cx="206.90" cy="160.63" r="0.8" fill="#d23c3c"/>
<circle cx="212.30" cy="160.86" r="0.8" fill="#d23c3c"/>
<circle cx="219.50" cy="161.09" r="0.8" fill="#d23c3c"/>
<circle cx="224.90" cy="161.32" r="0.8" fill="#d23c3c"/>
<circle cx="232.10" cy="161.32" r="0.8" fill="#d23c3c"/>
<circle cx="237.50" cy="161.43" r="0.8" fill="#d23c3c"/>
<circle cx="244.70" cy="161.50" r="0.8" fill="#d23c3c"/>
<polyline points="156.50,159.72 161.90,157.91 169.10,157.91 174.50,157.91 181.70,158.13 187.10,158.59 194.30,159.27 199.70,160.00 206.90,161.09 212.30,161.32 219.50,161.43 224.90,161.54 232.10,161.54 237.50,161.54 244.70,161.54" fill="none" stroke="#d23c3c" stroke-width="0.7"/>
<circle cx="156.50" cy="159.72" r="0.8" fill="#d23c3c"/>
<circle cx="161.90" cy="157.91" r="0.8" fill="#d23c3c"/>
<circle cx="169.10" cy="157.91" r="0.8" fill="#d23c3c"/>
<circle cx="174.50" cy="157.91" r="0.8" fill="#d23c3c"/>
<circle cx="181.70" cy="158.13" r="0.8" fill="#d23c3c"/>
<circle cx="187.10" cy="158.59" r="0.8" fill="#d23c3c"/>
<circle cx="194.30" cy="159.27" r="0.8" fill="#d23c3c"/>
<circle cx="199.70" cy="160.00" r="0.8" fill="#d23c3c"/>
<circle cx="206.90" cy="161.09" r="0.8" fill="#d23c3c"/>
<circle cx="212.30" cy="161.32" r="0.8" fill="#d23c3c"/>
<circle cx="219.50" cy="161.43" r="0.8" fill="#d23c3c"/>
<circle cx="224.90" cy="161.54" r="0.8" fill="#d23c3c"/>
<circle cx="232.10" cy="161.54" r="0.8" fill="#d23c3c"/>
<circle cx="237.50" cy="161.54" r="0.8" fill="#d23c3c"/>
<circle cx="244.70" cy="161.54" r="0.8" fill="#d23c3c"/>
<text x="0" y="0" font-size="11.607" font-weight="bold" fill="#1a1a1a" transform="translate(139.51 187.99) scale(1.0121 1)">Day</text>
<text x="0" y="0" font-size="11.192" font-weight="bold" fill="#1a1a1a" transform="translate(25.90 99.11) rotate(-90) scale(0.9006 1)">TV</text>
<text x="0" y="0" font-size="23.256" font-weight="bold" fill="#000" stroke="#000" stroke-width="0.25" transform="translate(277.31 16.50) scale(0.8248 1)">B</text>
<line x1="314.00" y1="31.00" x2="470.00" y2="31.00" stroke="#ececec" stroke-width="0.6"/>
<line x1="314.00" y1="74.50" x2="470.00" y2="74.50" stroke="#ececec" stroke-width="0.6"/>
<line x1="314.00" y1="118.00" x2="470.00" y2="118.00" stroke="#ececec" stroke-width="0.6"/>
<line x1="314.00" y1="161.50" x2="470.00" y2="161.50" stroke="#ececec" stroke-width="0.6"/>
<line x1="328.75" y1="10.00" x2="328.75" y2="165.00" stroke="#ececec" stroke-width="0.6"/>
<line x1="353.95" y1="10.00" x2="353.95" y2="165.00" stroke="#ececec" stroke-width="0.6"/>
<line x1="379.15" y1="10.00" x2="379.15" y2="165.00" stroke="#ececec" stroke-width="0.6"/>
<line x1="404.35" y1="10.00" x2="404.35" y2="165.00" stroke="#ececec" stroke-width="0.6"/>
<line x1="429.55" y1="10.00" x2="429.55" y2="165.00" stroke="#ececec" stroke-width="0.6"/>
<line x1="454.75" y1="10.00" x2="454.75" y2="165.00" stroke="#ececec" stroke-width="0.6"/>
<line x1="314.00" y1="10.00" x2="314.00" y2="165.00" stroke="#6a6a6a" stroke-width="1.0"/>
<line x1="314.00" y1="165.00" x2="470.00" y2="165.00" stroke="#6a6a6a" stroke-width="1.0"/>
<line x1="312.50" y1="31.00" x2="314.00" y2="31.00" stroke="#333" stroke-width="0.8"/>
<text x="311.5" y="33.5" font-size="7" font-weight="bold" text-anchor="end" fill="#1a1a1a">0.5</text>
<line x1="312.50" y1="74.50" x2="314.00" y2="74.50" stroke="#333" stroke-width="0.8"/>
<text x="311.5" y="77.0" font-size="7" font-weight="bold" text-anchor="end" fill="#1a1a1a">0.0</text>
<line x1="312.50" y1="118.00" x2="314.00" y2="118.00" stroke="#333" stroke-width="0.8"/>
<text x="311.5" y="120.5" font-size="7" font-weight="bold" text-anchor="end" fill="#1a1a1a">-0.5</text>
<line x1="312.50" y1="161.50" x2="314.00" y2="161.50" stroke="#333" stroke-width="0.8"/>
<text x="311.5" y="164.0" font-size="7" font-weight="bold" text-anchor="end" fill="#1a1a1a">-1.0</text>
<line x1="328.75" y1="165.00" x2="328.75" y2="166.50" stroke="#333" stroke-width="0.8"/>
<text x="328.75" y="173" font-size="7" font-weight="bold" text-anchor="middle" fill="#1a1a1a">D3</text>
<line x1="328.75" y1="31.87" x2="328.75" y2="93.64" stroke="#1a1a1a" stroke-width="1.65"/>
<circle cx="328.75" cy="65.19" r="2.1" fill="#0a0ac8"/>
<line x1="353.95" y1="165.00" x2="353.95" y2="166.50" stroke="#333" stroke-width="0.8"/>
<text x="353.95" y="173" font-size="7" font-weight="bold" text-anchor="middle" fill="#1a1a1a">D7</text>
<line x1="353.95" y1="31.87" x2="353.95" y2="93.64" stroke="#1a1a1a" stroke-width="1.65"/>
<circle cx="353.95" cy="61.10" r="2.1" fill="#0a0ac8"/>
<line x1="379.15" y1="165.00" x2="379.15" y2="166.50" stroke="#333" stroke-width="0.8"/>
<text x="379.15" y="173" font-size="7" font-weight="bold" text-anchor="middle" fill="#1a1a1a">D10</text>
<line x1="379.15" y1="16.64" x2="379.15" y2="107.12" stroke="#1a1a1a" stroke-width="1.65"/>
<circle cx="379.15" cy="81.03" r="2.1" fill="#0a0ac8"/>
<line x1="404.35" y1="165.00" x2="404.35" y2="166.50" stroke="#333" stroke-width="0.8"/>
<text x="404.35" y="173" font-size="7" font-weight="bold" text-anchor="middle" fill="#1a1a1a">D14</text>
<line x1="404.35" y1="30.13" x2="404.35" y2="136.27" stroke="#1a1a1a" stroke-width="1.65"/>
<circle cx="404.35" cy="91.90" r="2.1" fill="#0a0ac8"/>
<line x1="429.55" y1="165.00" x2="429.55" y2="166.50" stroke="#333" stroke-width="0.8"/>
<text x="429.55" y="173" font-size="7" font-weight="bold" text-anchor="middle" fill="#1a1a1a">D17</text>
<line x1="429.55" y1="35.35" x2="429.55" y2="158.02" stroke="#1a1a1a" stroke-width="1.65"/>
<circle cx="429.55" cy="110.17" r="2.1" fill="#0a0ac8"/>
<line x1="454.75" y1="165.00" x2="454.75" y2="166.50" stroke="#333" stroke-width="0.8"/>
<text x="454.75" y="173" font-size="7" font-weight="bold" text-anchor="middle" fill="#1a1a1a">Global</text>
<line x1="454.75" y1="43.18" x2="454.75" y2="124.09" stroke="#1a1a1a" stroke-width="1.65"/>
<circle cx="454.75" cy="80.59" r="2.1" fill="#0a0ac8"/>
<text x="382.8" y="21.1" font-size="7.85" font-weight="normal" text-anchor="start" fill="#222">gCI(CombPDX) <tspan font-style="italic">P</tspan>val=1</text>
<text x="0" y="0" font-size="11.942" font-weight="bold" fill="#1a1a1a" transform="translate(380.50 186.72) scale(0.9980 1)">Day</text>
<text x="0" y="0" font-size="9.218" font-weight="bold" fill="#1a1a1a" transform="translate(293.68 135.70) rotate(-90) scale(1.1342 1)">Bliss CI(CombPDX)</text>
<text x="0" y="0" font-size="23.870" font-weight="bold" fill="#000" stroke="#000" stroke-width="0.25" transform="translate(0.33 234.56) scale(0.7879 1)">C</text>
<line x1="48.30" y1="219.50" x2="48.30" y2="382.50" stroke="#ececec" stroke-width="0.6"/>
<line x1="94.20" y1="219.50" x2="94.20" y2="382.50" stroke="#ececec" stroke-width="0.6"/>
<line x1="140.10" y1="219.50" x2="140.10" y2="382.50" stroke="#ececec" stroke-width="0.6"/>
<line x1="186.00" y1="219.50" x2="186.00" y2="382.50" stroke="#ececec" stroke-width="0.6"/>
<line x1="48.30" y1="375.25" x2="223.60" y2="375.25" stroke="#ececec" stroke-width="0.6"/>
<line x1="48.30" y1="343.85" x2="223.60" y2="343.85" stroke="#ececec" stroke-width="0.6"/>
<line x1="48.30" y1="312.45" x2="223.60" y2="312.45" stroke="#ececec" stroke-width="0.6"/>
<line x1="48.30" y1="281.05" x2="223.60" y2="281.05" stroke="#ececec" stroke-width="0.6"/>
<line x1="48.30" y1="249.65" x2="223.60" y2="249.65" stroke="#ececec" stroke-width="0.6"/>
<rect x="56.40" y="367.20" width="5.33" height="8.05" fill="#d9d9d9" stroke="#3f86c8" stroke-width="1.0"/>
<rect x="61.73" y="315.40" width="5.33" height="59.85" fill="#d9d9d9" stroke="#3f86c8" stroke-width="1.0"/>
<rect x="67.06" y="257.40" width="5.33" height="117.85" fill="#d9d9d9" stroke="#3f86c8" stroke-width="1.0"/>
<rect x="72.39" y="257.40" width="5.33" height="117.85" fill="#d9d9d9" stroke="#3f86c8" stroke-width="1.0"/>
<rect x="77.72" y="248.20" width="5.33" height="127.05" fill="#d9d9d9" stroke="#3f86c8" stroke-width="1.0"/>
<rect x="83.05" y="226.50" width="5.33" height="148.75" fill="#d9d9d9" stroke="#3f86c8" stroke-width="1.0"/>
<rect x="88.38" y="261.50" width="5.33" height="113.75" fill="#d9d9d9" stroke="#3f86c8" stroke-width="1.0"/>
<rect x="93.71" y="275.70" width="5.33" height="99.55" fill="#d9d9d9" stroke="#3f86c8" stroke-width="1.0"/>
<rect x="99.04" y="292.90" width="5.33" height="82.35" fill="#d9d9d9" stroke="#3f86c8" stroke-width="1.0"/>
<rect x="104.37" y="309.30" width="5.33" height="65.95" fill="#d9d9d9" stroke="#3f86c8" stroke-width="1.0"/>
<rect x="109.70" y="340.10" width="5.33" height="35.15" fill="#d9d9d9" stroke="#3f86c8" stroke-width="1.0"/>
<rect x="115.03" y="345.70" width="5.33" height="29.55" fill="#d9d9d9" stroke="#3f86c8" stroke-width="1.0"/>
<rect x="120.36" y="358.50" width="5.33" height="16.75" fill="#d9d9d9" stroke="#3f86c8" stroke-width="1.0"/>
<rect x="125.69" y="366.20" width="5.33" height="9.05" fill="#d9d9d9" stroke="#3f86c8" stroke-width="1.0"/>
<rect x="131.02" y="366.90" width="5.33" height="8.35" fill="#d9d9d9" stroke="#3f86c8" stroke-width="1.0"/>
<rect x="136.35" y="357.20" width="5.33" height="18.05" fill="#d9d9d9" stroke="#3f86c8" stroke-width="1.0"/>
<rect x="141.68" y="369.70" width="5.33" height="5.55" fill="#d9d9d9" stroke="#3f86c8" stroke-width="1.0"/>
<rect x="147.01" y="369.70" width="5.33" height="5.55" fill="#d9d9d9" stroke="#3f86c8" stroke-width="1.0"/>
<rect x="152.34" y="370.20" width="5.33" height="5.05" fill="#d9d9d9" stroke="#3f86c8" stroke-width="1.0"/>
<rect x="157.67" y="370.70" width="5.33" height="4.55" fill="#d9d9d9" stroke="#3f86c8" stroke-width="1.0"/>
<rect x="163.00" y="372.30" width="5.33" height="2.95" fill="#d9d9d9" stroke="#3f86c8" stroke-width="1.0"/>
<rect x="168.33" y="374.00" width="5.33" height="1.25" fill="#d9d9d9" stroke="#3f86c8" stroke-width="1.0"/>
<rect x="173.66" y="374.30" width="5.33" height="0.95" fill="#d9d9d9" stroke="#3f86c8" stroke-width="1.0"/>
<rect x="178.99" y="374.20" width="5.33" height="1.05" fill="#d9d9d9" stroke="#3f86c8" stroke-width="1.0"/>
<rect x="184.32" y="371.40" width="5.33" height="3.85" fill="#d9d9d9" stroke="#3f86c8" stroke-width="1.0"/>
<rect x="210.97" y="373.60" width="5.33" height="1.65" fill="#d9d9d9" stroke="#3f86c8" stroke-width="1.0"/>
<path d="M58.20,358.30 C58.65,354.25 59.98,341.52 60.90,334.00 C61.82,326.48 62.73,320.90 63.70,313.20 C64.67,305.50 65.70,295.50 66.70,287.80 C67.70,280.10 68.73,272.58 69.70,267.00 C70.67,261.42 71.27,257.97 72.50,254.30 C73.73,250.63 75.25,247.43 77.10,245.00 C78.95,242.57 81.67,239.70 83.60,239.70 C85.53,239.70 87.27,242.28 88.70,245.00 C90.13,247.72 91.07,252.17 92.20,256.00 C93.33,259.83 94.33,263.75 95.50,268.00 C96.67,272.25 97.68,275.67 99.20,281.50 C100.72,287.33 102.80,296.20 104.60,303.00 C106.40,309.80 108.20,316.27 110.00,322.30 C111.80,328.33 113.60,334.20 115.40,339.20 C117.20,344.20 119.07,348.65 120.80,352.30 C122.53,355.95 124.02,358.92 125.80,361.10 C127.58,363.28 129.88,364.78 131.50,365.40 C133.12,366.02 134.22,365.12 135.50,364.80 C136.78,364.48 137.95,363.22 139.20,363.50 C140.45,363.78 141.83,365.67 143.00,366.50 C144.17,367.33 144.40,367.92 146.20,368.50 C148.00,369.08 151.25,369.50 153.80,370.00 C156.35,370.50 158.93,370.83 161.50,371.50 C164.07,372.17 166.78,373.45 169.20,374.00 C171.62,374.55 173.87,374.75 176.00,374.80 C178.13,374.85 180.17,374.52 182.00,374.30 C183.83,374.08 185.33,373.50 187.00,373.50 C188.67,373.50 189.83,374.07 192.00,374.30 C194.17,374.53 197.33,374.85 200.00,374.90 C202.67,374.95 205.33,374.75 208.00,374.60 C210.67,374.45 214.67,374.10 216.00,374.00" fill="none" stroke="#e0655c" stroke-width="1.0"/>
<line x1="139.70" y1="219.50" x2="139.70" y2="375.25" stroke="#e0503c" stroke-width="1.1" stroke-dasharray="3,2.6"/>
<line x1="64.20" y1="375.25" x2="147.70" y2="375.25" stroke="#1414f0" stroke-width="2.0"/>
<polygon points="85.00,376.65 90.40,376.65 87.70,372.25" fill="#000"/>
<line x1="48.30" y1="219.50" x2="48.30" y2="382.50" stroke="#8a8a8a" stroke-width="1.1"/>
<line x1="48.30" y1="382.50" x2="223.60" y2="382.50" stroke="#8a8a8a" stroke-width="1.1"/>
<line x1="46.80" y1="375.25" x2="48.30" y2="375.25" stroke="#333" stroke-width="0.8"/>
<text x="46.0" y="377.59" font-size="6.5" font-weight="bold" text-anchor="end" fill="#1a1a1a">0.0</text>
<line x1="46.80" y1="343.85" x2="48.30" y2="343.85" stroke="#333" stroke-width="0.8"/>
<text x="46.0" y="346.19" font-size="6.5" font-weight="bold" text-anchor="end" fill="#1a1a1a">0.5</text>
<line x1="46.80" y1="312.45" x2="48.30" y2="312.45" stroke="#333" stroke-width="0.8"/>
<text x="46.0" y="314.78999999999996" font-size="6.5" font-weight="bold" text-anchor="end" fill="#1a1a1a">1.0</text>
<line x1="46.80" y1="281.05" x2="48.30" y2="281.05" stroke="#333" stroke-width="0.8"/>
<text x="46.0" y="283.39" font-size="6.5" font-weight="bold" text-anchor="end" fill="#1a1a1a">1.5</text>
<line x1="46.80" y1="249.65" x2="48.30" y2="249.65" stroke="#333" stroke-width="0.8"/>
<text x="46.0" y="251.99" font-size="6.5" font-weight="bold" text-anchor="end" fill="#1a1a1a">2.0</text>
<line x1="48.30" y1="382.50" x2="48.30" y2="384.00" stroke="#333" stroke-width="0.8"/>
<text x="48.3" y="389.38" font-size="6.5" font-weight="bold" text-anchor="middle" fill="#1a1a1a">0.0</text>
<line x1="94.20" y1="382.50" x2="94.20" y2="384.00" stroke="#333" stroke-width="0.8"/>
<text x="94.19999999999999" y="389.38" font-size="6.5" font-weight="bold" text-anchor="middle" fill="#1a1a1a">0.5</text>
<line x1="140.10" y1="382.50" x2="140.10" y2="384.00" stroke="#333" stroke-width="0.8"/>
<text x="140.1" y="389.38" font-size="6.5" font-weight="bold" text-anchor="middle" fill="#1a1a1a">1.0</text>
<line x1="186.00" y1="382.50" x2="186.00" y2="384.00" stroke="#333" stroke-width="0.8"/>
<text x="186.0" y="389.38" font-size="6.5" font-weight="bold" text-anchor="middle" fill="#1a1a1a">1.5</text>
<text x="136.7" y="396" font-size="7.75" font-weight="bold" text-anchor="middle" fill="#1a1a1a">Bliss CI(invivoSyn)</text>
<text x="0" y="0" font-size="6.431" font-weight="bold" fill="#1a1a1a" transform="translate(35.16 314.72) rotate(-90) scale(1.2124 1)">Density</text>
<text x="223.5" y="229.9" font-size="6.05" font-weight="normal" text-anchor="end" fill="#222">Bootstrap <tspan font-style="italic">P</tspan>val=0.032</text>
<line x1="136.20" y1="235.60" x2="154.20" y2="235.60" stroke="#1414f0" stroke-width="1.0"/>
<text x="221.8" y="237.7" font-size="6.05" font-weight="normal" text-anchor="end" fill="#222">95% Confidence Interval</text>
<text x="0" y="0" font-size="23.256" font-weight="bold" fill="#000" stroke="#000" stroke-width="0.25" transform="translate(275.87 234.00) scale(0.9821 1)">D</text>
<line x1="332.00" y1="223.75" x2="332.00" y2="381.25" stroke="#ececec" stroke-width="0.6"/>
<line x1="378.00" y1="223.75" x2="378.00" y2="381.25" stroke="#ececec" stroke-width="0.6"/>
<line x1="424.00" y1="223.75" x2="424.00" y2="381.25" stroke="#ececec" stroke-width="0.6"/>
<line x1="470.00" y1="223.75" x2="470.00" y2="381.25" stroke="#ececec" stroke-width="0.6"/>
<line x1="317.30" y1="374.50" x2="483.50" y2="374.50" stroke="#ececec" stroke-width="0.6"/>
<line x1="317.30" y1="333.00" x2="483.50" y2="333.00" stroke="#ececec" stroke-width="0.6"/>
<line x1="317.30" y1="291.50" x2="483.50" y2="291.50" stroke="#ececec" stroke-width="0.6"/>
<line x1="317.30" y1="250.00" x2="483.50" y2="250.00" stroke="#ececec" stroke-width="0.6"/>
<rect x="324.20" y="363.25" width="5.09" height="11.25" fill="#d9d9d9" stroke="#3f86c8" stroke-width="1.0"/>
<rect x="329.29" y="333.25" width="5.09" height="41.25" fill="#d9d9d9" stroke="#3f86c8" stroke-width="1.0"/>
<rect x="334.37" y="288.50" width="5.09" height="86.00" fill="#d9d9d9" stroke="#3f86c8" stroke-width="1.0"/>
<rect x="339.46" y="230.50" width="5.09" height="144.00" fill="#d9d9d9" stroke="#3f86c8" stroke-width="1.0"/>
<rect x="344.55" y="237.40" width="5.09" height="137.10" fill="#d9d9d9" stroke="#3f86c8" stroke-width="1.0"/>
<rect x="349.63" y="268.60" width="5.09" height="105.90" fill="#d9d9d9" stroke="#3f86c8" stroke-width="1.0"/>
<rect x="354.72" y="285.10" width="5.09" height="89.40" fill="#d9d9d9" stroke="#3f86c8" stroke-width="1.0"/>
<rect x="359.81" y="294.30" width="5.09" height="80.20" fill="#d9d9d9" stroke="#3f86c8" stroke-width="1.0"/>
<rect x="364.90" y="312.30" width="5.09" height="62.20" fill="#d9d9d9" stroke="#3f86c8" stroke-width="1.0"/>
<rect x="369.98" y="330.50" width="5.09" height="44.00" fill="#d9d9d9" stroke="#3f86c8" stroke-width="1.0"/>
<rect x="375.07" y="337.40" width="5.09" height="37.10" fill="#d9d9d9" stroke="#3f86c8" stroke-width="1.0"/>
<rect x="380.16" y="347.40" width="5.09" height="27.10" fill="#d9d9d9" stroke="#3f86c8" stroke-width="1.0"/>
<rect x="385.24" y="357.20" width="5.09" height="17.30" fill="#d9d9d9" stroke="#3f86c8" stroke-width="1.0"/>
<rect x="390.33" y="363.40" width="5.09" height="11.10" fill="#d9d9d9" stroke="#3f86c8" stroke-width="1.0"/>
<rect x="395.42" y="360.30" width="5.09" height="14.20" fill="#d9d9d9" stroke="#3f86c8" stroke-width="1.0"/>
<rect x="400.50" y="364.60" width="5.09" height="9.90" fill="#d9d9d9" stroke="#3f86c8" stroke-width="1.0"/>
<rect x="405.59" y="362.30" width="5.09" height="12.20" fill="#d9d9d9" stroke="#3f86c8" stroke-width="1.0"/>
<rect x="410.68" y="368.50" width="5.09" height="6.00" fill="#d9d9d9" stroke="#3f86c8" stroke-width="1.0"/>
<rect x="415.77" y="368.50" width="5.09" height="6.00" fill="#d9d9d9" stroke="#3f86c8" stroke-width="1.0"/>
<rect x="420.85" y="369.30" width="5.09" height="5.20" fill="#d9d9d9" stroke="#3f86c8" stroke-width="1.0"/>
<rect x="425.94" y="372.00" width="5.09" height="2.50" fill="#d9d9d9" stroke="#3f86c8" stroke-width="1.0"/>
<rect x="431.03" y="370.30" width="5.09" height="4.20" fill="#d9d9d9" stroke="#3f86c8" stroke-width="1.0"/>
<rect x="436.11" y="372.30" width="5.09" height="2.20" fill="#d9d9d9" stroke="#3f86c8" stroke-width="1.0"/>
<rect x="441.20" y="373.60" width="5.09" height="0.90" fill="#d9d9d9" stroke="#3f86c8" stroke-width="1.0"/>
<rect x="446.29" y="373.40" width="5.09" height="1.10" fill="#d9d9d9" stroke="#3f86c8" stroke-width="1.0"/>
<rect x="466.64" y="373.50" width="5.09" height="1.00" fill="#d9d9d9" stroke="#3f86c8" stroke-width="1.0"/>
<rect x="471.72" y="373.00" width="5.09" height="1.50" fill="#d9d9d9" stroke="#3f86c8" stroke-width="1.0"/>
<path d="M325.30,367.00 C325.83,364.37 327.57,356.05 328.50,351.20 C329.43,346.35 330.10,342.75 330.90,337.90 C331.70,333.05 332.48,327.97 333.30,322.10 C334.12,316.23 334.98,309.17 335.80,302.70 C336.62,296.23 337.40,289.77 338.20,283.30 C339.00,276.83 339.80,269.55 340.60,263.90 C341.40,258.25 342.18,253.30 343.00,249.40 C343.82,245.50 344.68,241.72 345.50,240.50 C346.32,239.28 347.10,240.42 347.90,242.10 C348.70,243.78 349.30,246.97 350.30,250.60 C351.30,254.23 352.48,259.17 353.90,263.90 C355.32,268.63 357.45,274.32 358.80,279.00 C360.15,283.68 360.88,287.08 362.00,292.00 C363.12,296.92 364.10,303.45 365.50,308.50 C366.90,313.55 368.73,317.95 370.40,322.30 C372.07,326.65 373.82,330.62 375.50,334.60 C377.18,338.58 378.83,343.12 380.50,346.20 C382.17,349.28 383.80,351.05 385.50,353.10 C387.20,355.15 388.98,356.97 390.70,358.50 C392.42,360.03 394.13,361.35 395.80,362.30 C397.47,363.25 399.03,363.82 400.70,364.20 C402.37,364.58 404.13,364.15 405.80,364.60 C407.47,365.05 409.03,366.13 410.70,366.90 C412.37,367.67 414.12,368.55 415.80,369.20 C417.48,369.85 419.13,370.42 420.80,370.80 C422.47,371.18 424.13,371.37 425.80,371.50 C427.47,371.63 429.10,371.43 430.80,371.60 C432.50,371.77 434.30,372.22 436.00,372.50 C437.70,372.78 439.00,373.05 441.00,373.30 C443.00,373.55 445.50,373.80 448.00,374.00 C450.50,374.20 453.33,374.42 456.00,374.50 C458.67,374.58 461.42,374.65 464.00,374.50 C466.58,374.35 470.25,373.75 471.50,373.60" fill="none" stroke="#e0655c" stroke-width="1.0"/>
<line x1="332.20" y1="223.75" x2="332.20" y2="374.50" stroke="#e0503c" stroke-width="1.1" stroke-dasharray="3,2.6"/>
<line x1="332.00" y1="374.50" x2="415.80" y2="374.50" stroke="#1414f0" stroke-width="2.0"/>
<polygon points="349.80,375.90 355.20,375.90 352.50,371.50" fill="#000"/>
<line x1="317.30" y1="223.75" x2="317.30" y2="381.25" stroke="#8a8a8a" stroke-width="1.1"/>
<line x1="317.30" y1="381.25" x2="483.50" y2="381.25" stroke="#8a8a8a" stroke-width="1.1"/>
<line x1="315.80" y1="374.50" x2="317.30" y2="374.50" stroke="#333" stroke-width="0.8"/>
<text x="315.0" y="376.624" font-size="5.9" font-weight="bold" text-anchor="end" fill="#1a1a1a">0.00</text>
<line x1="315.80" y1="333.00" x2="317.30" y2="333.00" stroke="#333" stroke-width="0.8"/>
<text x="315.0" y="335.124" font-size="5.9" font-weight="bold" text-anchor="end" fill="#1a1a1a">0.02</text>
<line x1="315.80" y1="291.50" x2="317.30" y2="291.50" stroke="#333" stroke-width="0.8"/>
<text x="315.0" y="293.624" font-size="5.9" font-weight="bold" text-anchor="end" fill="#1a1a1a">0.04</text>
<line x1="315.80" y1="250.00" x2="317.30" y2="250.00" stroke="#333" stroke-width="0.8"/>
<text x="315.0" y="252.124" font-size="5.9" font-weight="bold" text-anchor="end" fill="#1a1a1a">0.06</text>
<line x1="332.00" y1="381.25" x2="332.00" y2="382.75" stroke="#333" stroke-width="0.8"/>
<text x="332.0" y="387.698" font-size="5.9" font-weight="bold" text-anchor="middle" fill="#1a1a1a">0</text>
<line x1="378.00" y1="381.25" x2="378.00" y2="382.75" stroke="#333" stroke-width="0.8"/>
<text x="378.0" y="387.698" font-size="5.9" font-weight="bold" text-anchor="middle" fill="#1a1a1a">20</text>
<line x1="424.00" y1="381.25" x2="424.00" y2="382.75" stroke="#333" stroke-width="0.8"/>
<text x="424.0" y="387.698" font-size="5.9" font-weight="bold" text-anchor="middle" fill="#1a1a1a">40</text>
<line x1="470.00" y1="381.25" x2="470.00" y2="382.75" stroke="#333" stroke-width="0.8"/>
<text x="470.0" y="387.698" font-size="5.9" font-weight="bold" text-anchor="middle" fill="#1a1a1a">60</text>
<text x="400.4" y="395" font-size="7.52" font-weight="bold" text-anchor="middle" fill="#1a1a1a">Bliss Synergy Score(invivoSyn)</text>
<text x="0" y="0" font-size="7.610" font-weight="bold" fill="#1a1a1a" transform="translate(301.52 315.70) rotate(-90) scale(0.9800 1)">Density</text>
<text x="484" y="233.6" font-size="6.05" font-weight="normal" text-anchor="end" fill="#222">Bootstrap <tspan font-style="italic">P</tspan>val=0.032</text>
<line x1="400.60" y1="239.70" x2="416.90" y2="239.70" stroke="#1414f0" stroke-width="1.0"/>
<text x="481.6" y="241.79999999999998" font-size="6.05" font-weight="normal" text-anchor="end" fill="#222">95% Confidence Interval</text>
<text x="0" y="0" font-size="25.145" font-weight="bold" fill="#000" stroke="#000" stroke-width="0.25" transform="translate(1.18 451.60) scale(0.7231 1)">E</text>
<rect x="43.00" y="435.00" width="90.00" height="9.30" fill="#ededed" stroke="none" stroke-width="0"/>
<text x="88.0" y="441.7" font-size="6.3" font-weight="bold" text-anchor="middle" fill="#1a1a1a">Vehicle control (C)</text>
<line x1="46.40" y1="444.30" x2="46.40" y2="506.30" stroke="#ececec" stroke-width="0.6"/>
<line x1="63.00" y1="444.30" x2="63.00" y2="506.30" stroke="#ececec" stroke-width="0.6"/>
<line x1="79.60" y1="444.30" x2="79.60" y2="506.30" stroke="#ececec" stroke-width="0.6"/>
<line x1="96.20" y1="444.30" x2="96.20" y2="506.30" stroke="#ececec" stroke-width="0.6"/>
<line x1="112.80" y1="444.30" x2="112.80" y2="506.30" stroke="#ececec" stroke-width="0.6"/>
<line x1="129.40" y1="444.30" x2="129.40" y2="506.30" stroke="#ececec" stroke-width="0.6"/>
<line x1="43.00" y1="503.75" x2="133.00" y2="503.75" stroke="#ececec" stroke-width="0.6"/>
<line x1="43.00" y1="484.15" x2="133.00" y2="484.15" stroke="#ececec" stroke-width="0.6"/>
<line x1="43.00" y1="464.55" x2="133.00" y2="464.55" stroke="#ececec" stroke-width="0.6"/>
<line x1="43.00" y1="444.95" x2="133.00" y2="444.95" stroke="#ececec" stroke-width="0.6"/>
<line x1="43.00" y1="444.30" x2="43.00" y2="506.30" stroke="#8c8c8c" stroke-width="0.9"/>
<line x1="41.50" y1="503.75" x2="43.00" y2="503.75" stroke="#333" stroke-width="0.8"/>
<text x="40.8" y="506.55" font-size="7.8" font-weight="bold" text-anchor="end" fill="#1a1a1a">0</text>
<line x1="41.50" y1="484.15" x2="43.00" y2="484.15" stroke="#333" stroke-width="0.8"/>
<text x="40.8" y="486.95" font-size="7.8" font-weight="bold" text-anchor="end" fill="#1a1a1a">1,000</text>
<line x1="41.50" y1="464.55" x2="43.00" y2="464.55" stroke="#333" stroke-width="0.8"/>
<text x="40.8" y="467.35" font-size="7.8" font-weight="bold" text-anchor="end" fill="#1a1a1a">2,000</text>
<line x1="41.50" y1="444.95" x2="43.00" y2="444.95" stroke="#333" stroke-width="0.8"/>
<text x="40.8" y="447.75" font-size="7.8" font-weight="bold" text-anchor="end" fill="#1a1a1a">3,000</text>
<polyline points="46.40,501.79 52.21,500.55 58.02,498.53 63.83,495.23 69.64,489.85 75.45,481.06 81.26,466.72 86.24,447.40" fill="none" stroke="#2a7fd4" stroke-width="0.75"/>
<circle cx="46.40" cy="501.79" r="0.8" fill="#2a7fd4"/>
<circle cx="52.21" cy="500.55" r="0.8" fill="#2a7fd4"/>
<circle cx="58.02" cy="498.53" r="0.8" fill="#2a7fd4"/>
<circle cx="63.83" cy="495.23" r="0.8" fill="#2a7fd4"/>
<circle cx="69.64" cy="489.85" r="0.8" fill="#2a7fd4"/>
<circle cx="75.45" cy="481.06" r="0.8" fill="#2a7fd4"/>
<circle cx="81.26" cy="466.72" r="0.8" fill="#2a7fd4"/>
<circle cx="86.24" cy="447.40" r="0.8" fill="#2a7fd4"/>
<polyline points="46.40,501.79 52.21,500.40 58.02,498.02 63.83,493.96 69.64,487.02 75.45,475.15 81.43,454.10" fill="none" stroke="#2a7fd4" stroke-width="0.75"/>
<circle cx="46.40" cy="501.79" r="0.8" fill="#2a7fd4"/>
<circle cx="52.21" cy="500.40" r="0.8" fill="#2a7fd4"/>
<circle cx="58.02" cy="498.02" r="0.8" fill="#2a7fd4"/>
<circle cx="63.83" cy="493.96" r="0.8" fill="#2a7fd4"/>
<circle cx="69.64" cy="487.02" r="0.8" fill="#2a7fd4"/>
<circle cx="75.45" cy="475.15" r="0.8" fill="#2a7fd4"/>
<circle cx="81.43" cy="454.10" r="0.8" fill="#2a7fd4"/>
<polyline points="46.40,501.79 52.21,500.61 58.02,498.72 63.83,495.69 69.64,490.84 75.45,483.06 81.26,470.60 86.24,454.10" fill="none" stroke="#2a7fd4" stroke-width="0.75"/>
<circle cx="46.40" cy="501.79" r="0.8" fill="#2a7fd4"/>
<circle cx="52.21" cy="500.61" r="0.8" fill="#2a7fd4"/>
<circle cx="58.02" cy="498.72" r="0.8" fill="#2a7fd4"/>
<circle cx="63.83" cy="495.69" r="0.8" fill="#2a7fd4"/>
<circle cx="69.64" cy="490.84" r="0.8" fill="#2a7fd4"/>
<circle cx="75.45" cy="483.06" r="0.8" fill="#2a7fd4"/>
<circle cx="81.26" cy="470.60" r="0.8" fill="#2a7fd4"/>
<circle cx="86.24" cy="454.10" r="0.8" fill="#2a7fd4"/>
<polyline points="46.40,501.79 52.21,500.83 58.02,499.39 63.83,497.24 69.64,494.04 75.45,489.27 81.26,482.14 87.07,471.51 93.05,455.10" fill="none" stroke="#2a7fd4" stroke-width="0.75"/>
<circle cx="46.40" cy="501.79" r="0.8" fill="#2a7fd4"/>
<circle cx="52.21" cy="500.83" r="0.8" fill="#2a7fd4"/>
<circle cx="58.02" cy="499.39" r="0.8" fill="#2a7fd4"/>
<circle cx="63.83" cy="497.24" r="0.8" fill="#2a7fd4"/>
<circle cx="69.64" cy="494.04" r="0.8" fill="#2a7fd4"/>
<circle cx="75.45" cy="489.27" r="0.8" fill="#2a7fd4"/>
<circle cx="81.26" cy="482.14" r="0.8" fill="#2a7fd4"/>
<circle cx="87.07" cy="471.51" r="0.8" fill="#2a7fd4"/>
<circle cx="93.05" cy="455.10" r="0.8" fill="#2a7fd4"/>
<polyline points="46.40,501.79 52.21,500.72 58.02,499.07 63.83,496.51 69.64,492.56 75.45,486.45 81.26,477.01 86.24,464.90" fill="none" stroke="#2a7fd4" stroke-width="0.75"/>
<circle cx="46.40" cy="501.79" r="0.8" fill="#2a7fd4"/>
<circle cx="52.21" cy="500.72" r="0.8" fill="#2a7fd4"/>
<circle cx="58.02" cy="499.07" r="0.8" fill="#2a7fd4"/>
<circle cx="63.83" cy="496.51" r="0.8" fill="#2a7fd4"/>
<circle cx="69.64" cy="492.56" r="0.8" fill="#2a7fd4"/>
<circle cx="75.45" cy="486.45" r="0.8" fill="#2a7fd4"/>
<circle cx="81.26" cy="477.01" r="0.8" fill="#2a7fd4"/>
<circle cx="86.24" cy="464.90" r="0.8" fill="#2a7fd4"/>
<polyline points="46.40,501.79 52.21,500.49 58.02,498.32 63.83,494.72 69.64,488.71 75.45,478.73 81.43,461.49" fill="none" stroke="#2a7fd4" stroke-width="0.75"/>
<circle cx="46.40" cy="501.79" r="0.8" fill="#2a7fd4"/>
<circle cx="52.21" cy="500.49" r="0.8" fill="#2a7fd4"/>
<circle cx="58.02" cy="498.32" r="0.8" fill="#2a7fd4"/>
<circle cx="63.83" cy="494.72" r="0.8" fill="#2a7fd4"/>
<circle cx="69.64" cy="488.71" r="0.8" fill="#2a7fd4"/>
<circle cx="75.45" cy="478.73" r="0.8" fill="#2a7fd4"/>
<circle cx="81.43" cy="461.49" r="0.8" fill="#2a7fd4"/>
<polyline points="46.40,501.79 52.21,500.65 58.02,498.86 63.83,496.02 69.64,491.54 75.45,484.47 81.26,473.29 86.24,458.67" fill="none" stroke="#2a7fd4" stroke-width="0.75"/>
<circle cx="46.40" cy="501.79" r="0.8" fill="#2a7fd4"/>
<circle cx="52.21" cy="500.65" r="0.8" fill="#2a7fd4"/>
<circle cx="58.02" cy="498.86" r="0.8" fill="#2a7fd4"/>
<circle cx="63.83" cy="496.02" r="0.8" fill="#2a7fd4"/>
<circle cx="69.64" cy="491.54" r="0.8" fill="#2a7fd4"/>
<circle cx="75.45" cy="484.47" r="0.8" fill="#2a7fd4"/>
<circle cx="81.26" cy="473.29" r="0.8" fill="#2a7fd4"/>
<circle cx="86.24" cy="458.67" r="0.8" fill="#2a7fd4"/>
<polyline points="46.40,501.79 52.21,500.58 58.02,498.62 63.83,495.46 69.64,490.35 75.45,482.08 81.26,468.70 86.24,450.83" fill="none" stroke="#2a7fd4" stroke-width="0.75"/>
<circle cx="46.40" cy="501.79" r="0.8" fill="#2a7fd4"/>
<circle cx="52.21" cy="500.58" r="0.8" fill="#2a7fd4"/>
<circle cx="58.02" cy="498.62" r="0.8" fill="#2a7fd4"/>
<circle cx="63.83" cy="495.46" r="0.8" fill="#2a7fd4"/>
<circle cx="69.64" cy="490.35" r="0.8" fill="#2a7fd4"/>
<circle cx="75.45" cy="482.08" r="0.8" fill="#2a7fd4"/>
<circle cx="81.26" cy="468.70" r="0.8" fill="#2a7fd4"/>
<circle cx="86.24" cy="450.83" r="0.8" fill="#2a7fd4"/>
<polyline points="46.40,501.79 52.21,500.53 58.02,498.45 63.83,495.05 69.64,489.44 75.45,480.24 81.43,464.55" fill="none" stroke="#2a7fd4" stroke-width="0.75"/>
<circle cx="46.40" cy="501.79" r="0.8" fill="#2a7fd4"/>
<circle cx="52.21" cy="500.53" r="0.8" fill="#2a7fd4"/>
<circle cx="58.02" cy="498.45" r="0.8" fill="#2a7fd4"/>
<circle cx="63.83" cy="495.05" r="0.8" fill="#2a7fd4"/>
<circle cx="69.64" cy="489.44" r="0.8" fill="#2a7fd4"/>
<circle cx="75.45" cy="480.24" r="0.8" fill="#2a7fd4"/>
<circle cx="81.43" cy="464.55" r="0.8" fill="#2a7fd4"/>
<polyline points="46.40,501.79 52.21,500.68 58.02,498.95 63.83,496.25 69.64,492.01 75.45,485.39 81.26,475.03 86.24,461.61" fill="none" stroke="#2a7fd4" stroke-width="0.75"/>
<circle cx="46.40" cy="501.79" r="0.8" fill="#2a7fd4"/>
<circle cx="52.21" cy="500.68" r="0.8" fill="#2a7fd4"/>
<circle cx="58.02" cy="498.95" r="0.8" fill="#2a7fd4"/>
<circle cx="63.83" cy="496.25" r="0.8" fill="#2a7fd4"/>
<circle cx="69.64" cy="492.01" r="0.8" fill="#2a7fd4"/>
<circle cx="75.45" cy="485.39" r="0.8" fill="#2a7fd4"/>
<circle cx="81.26" cy="475.03" r="0.8" fill="#2a7fd4"/>
<circle cx="86.24" cy="461.61" r="0.8" fill="#2a7fd4"/>
<rect x="135.75" y="435.00" width="91.00" height="9.30" fill="#ededed" stroke="none" stroke-width="0"/>
<text x="181.25" y="441.7" font-size="6.3" font-weight="bold" text-anchor="middle" fill="#1a1a1a">Drug A (A)</text>
<line x1="139.50" y1="444.30" x2="139.50" y2="506.30" stroke="#ececec" stroke-width="0.6"/>
<line x1="156.10" y1="444.30" x2="156.10" y2="506.30" stroke="#ececec" stroke-width="0.6"/>
<line x1="172.70" y1="444.30" x2="172.70" y2="506.30" stroke="#ececec" stroke-width="0.6"/>
<line x1="189.30" y1="444.30" x2="189.30" y2="506.30" stroke="#ececec" stroke-width="0.6"/>
<line x1="205.90" y1="444.30" x2="205.90" y2="506.30" stroke="#ececec" stroke-width="0.6"/>
<line x1="222.50" y1="444.30" x2="222.50" y2="506.30" stroke="#ececec" stroke-width="0.6"/>
<line x1="135.75" y1="503.75" x2="226.75" y2="503.75" stroke="#ececec" stroke-width="0.6"/>
<line x1="135.75" y1="484.15" x2="226.75" y2="484.15" stroke="#ececec" stroke-width="0.6"/>
<line x1="135.75" y1="464.55" x2="226.75" y2="464.55" stroke="#ececec" stroke-width="0.6"/>
<line x1="135.75" y1="444.95" x2="226.75" y2="444.95" stroke="#ececec" stroke-width="0.6"/>
<polyline points="139.50,501.79 145.31,500.78 151.12,499.24 156.93,496.91 162.74,493.37 168.55,488.00 174.36,479.86 180.17,467.50 186.15,448.11" fill="none" stroke="#eeb414" stroke-width="0.75"/>
<circle cx="139.50" cy="501.79" r="0.8" fill="#eeb414"/>
<circle cx="145.31" cy="500.78" r="0.8" fill="#eeb414"/>
<circle cx="151.12" cy="499.24" r="0.8" fill="#eeb414"/>
<circle cx="156.93" cy="496.91" r="0.8" fill="#eeb414"/>
<circle cx="162.74" cy="493.37" r="0.8" fill="#eeb414"/>
<circle cx="168.55" cy="488.00" r="0.8" fill="#eeb414"/>
<circle cx="174.36" cy="479.86" r="0.8" fill="#eeb414"/>
<circle cx="180.17" cy="467.50" r="0.8" fill="#eeb414"/>
<circle cx="186.15" cy="448.11" r="0.8" fill="#eeb414"/>
<polyline points="139.50,501.79 145.31,500.81 151.12,499.34 156.93,497.13 162.74,493.81 168.55,488.84 174.36,481.38 180.17,470.18 186.15,452.79" fill="none" stroke="#eeb414" stroke-width="0.75"/>
<circle cx="139.50" cy="501.79" r="0.8" fill="#eeb414"/>
<circle cx="145.31" cy="500.81" r="0.8" fill="#eeb414"/>
<circle cx="151.12" cy="499.34" r="0.8" fill="#eeb414"/>
<circle cx="156.93" cy="497.13" r="0.8" fill="#eeb414"/>
<circle cx="162.74" cy="493.81" r="0.8" fill="#eeb414"/>
<circle cx="168.55" cy="488.84" r="0.8" fill="#eeb414"/>
<circle cx="174.36" cy="481.38" r="0.8" fill="#eeb414"/>
<circle cx="180.17" cy="470.18" r="0.8" fill="#eeb414"/>
<circle cx="186.15" cy="452.79" r="0.8" fill="#eeb414"/>
<polyline points="139.50,501.79 145.31,500.87 151.12,499.51 156.93,497.51 162.74,494.56 168.55,490.23 174.36,483.86 180.17,474.48 186.15,460.20" fill="none" stroke="#eeb414" stroke-width="0.75"/>
<circle cx="139.50" cy="501.79" r="0.8" fill="#eeb414"/>
<circle cx="145.31" cy="500.87" r="0.8" fill="#eeb414"/>
<circle cx="151.12" cy="499.51" r="0.8" fill="#eeb414"/>
<circle cx="156.93" cy="497.51" r="0.8" fill="#eeb414"/>
<circle cx="162.74" cy="494.56" r="0.8" fill="#eeb414"/>
<circle cx="168.55" cy="490.23" r="0.8" fill="#eeb414"/>
<circle cx="174.36" cy="483.86" r="0.8" fill="#eeb414"/>
<circle cx="180.17" cy="474.48" r="0.8" fill="#eeb414"/>
<circle cx="186.15" cy="460.20" r="0.8" fill="#eeb414"/>
<polyline points="139.50,501.79 145.31,500.89 151.12,499.57 156.93,497.65 162.74,494.85 168.55,490.76 174.36,484.79 180.17,476.07 186.15,462.90" fill="none" stroke="#eeb414" stroke-width="0.75"/>
<circle cx="139.50" cy="501.79" r="0.8" fill="#eeb414"/>
<circle cx="145.31" cy="500.89" r="0.8" fill="#eeb414"/>
<circle cx="151.12" cy="499.57" r="0.8" fill="#eeb414"/>
<circle cx="156.93" cy="497.65" r="0.8" fill="#eeb414"/>
<circle cx="162.74" cy="494.85" r="0.8" fill="#eeb414"/>
<circle cx="168.55" cy="490.76" r="0.8" fill="#eeb414"/>
<circle cx="174.36" cy="484.79" r="0.8" fill="#eeb414"/>
<circle cx="180.17" cy="476.07" r="0.8" fill="#eeb414"/>
<circle cx="186.15" cy="462.90" r="0.8" fill="#eeb414"/>
<polyline points="139.50,501.79 145.31,500.68 151.12,498.93 156.93,496.19 162.74,491.90 168.55,485.17 174.36,474.61 179.34,460.90" fill="none" stroke="#eeb414" stroke-width="0.75"/>
<circle cx="139.50" cy="501.79" r="0.8" fill="#eeb414"/>
<circle cx="145.31" cy="500.68" r="0.8" fill="#eeb414"/>
<circle cx="151.12" cy="498.93" r="0.8" fill="#eeb414"/>
<circle cx="156.93" cy="496.19" r="0.8" fill="#eeb414"/>
<circle cx="162.74" cy="491.90" r="0.8" fill="#eeb414"/>
<circle cx="168.55" cy="485.17" r="0.8" fill="#eeb414"/>
<circle cx="174.36" cy="474.61" r="0.8" fill="#eeb414"/>
<circle cx="179.34" cy="460.90" r="0.8" fill="#eeb414"/>
<polyline points="139.50,501.79 145.31,500.46 151.12,498.23 156.93,494.48 162.74,488.19 168.55,477.63 174.36,459.90" fill="none" stroke="#eeb414" stroke-width="0.75"/>
<circle cx="139.50" cy="501.79" r="0.8" fill="#eeb414"/>
<circle cx="145.31" cy="500.46" r="0.8" fill="#eeb414"/>
<circle cx="151.12" cy="498.23" r="0.8" fill="#eeb414"/>
<circle cx="156.93" cy="494.48" r="0.8" fill="#eeb414"/>
<circle cx="162.74" cy="488.19" r="0.8" fill="#eeb414"/>
<circle cx="168.55" cy="477.63" r="0.8" fill="#eeb414"/>
<circle cx="174.36" cy="459.90" r="0.8" fill="#eeb414"/>
<polyline points="139.50,501.79 145.31,500.84 151.12,499.42 156.93,497.32 162.74,494.20 168.55,489.57 174.36,482.68 180.17,472.44 186.15,456.71" fill="none" stroke="#eeb414" stroke-width="0.75"/>
<circle cx="139.50" cy="501.79" r="0.8" fill="#eeb414"/>
<circle cx="145.31" cy="500.84" r="0.8" fill="#eeb414"/>
<circle cx="151.12" cy="499.42" r="0.8" fill="#eeb414"/>
<circle cx="156.93" cy="497.32" r="0.8" fill="#eeb414"/>
<circle cx="162.74" cy="494.20" r="0.8" fill="#eeb414"/>
<circle cx="168.55" cy="489.57" r="0.8" fill="#eeb414"/>
<circle cx="174.36" cy="482.68" r="0.8" fill="#eeb414"/>
<circle cx="180.17" cy="472.44" r="0.8" fill="#eeb414"/>
<circle cx="186.15" cy="456.71" r="0.8" fill="#eeb414"/>
<polyline points="139.50,501.79 145.31,500.91 151.12,499.64 156.93,497.80 162.74,495.14 168.55,491.29 174.36,485.71 180.17,477.63 186.15,465.53" fill="none" stroke="#eeb414" stroke-width="0.75"/>
<circle cx="139.50" cy="501.79" r="0.8" fill="#eeb414"/>
<circle cx="145.31" cy="500.91" r="0.8" fill="#eeb414"/>
<circle cx="151.12" cy="499.64" r="0.8" fill="#eeb414"/>
<circle cx="156.93" cy="497.80" r="0.8" fill="#eeb414"/>
<circle cx="162.74" cy="495.14" r="0.8" fill="#eeb414"/>
<circle cx="168.55" cy="491.29" r="0.8" fill="#eeb414"/>
<circle cx="174.36" cy="485.71" r="0.8" fill="#eeb414"/>
<circle cx="180.17" cy="477.63" r="0.8" fill="#eeb414"/>
<circle cx="186.15" cy="465.53" r="0.8" fill="#eeb414"/>
<polyline points="139.50,501.79 145.31,500.74 151.12,499.12 156.93,496.64 162.74,492.83 168.55,486.97 174.36,477.98 179.34,466.51" fill="none" stroke="#eeb414" stroke-width="0.75"/>
<circle cx="139.50" cy="501.79" r="0.8" fill="#eeb414"/>
<circle cx="145.31" cy="500.74" r="0.8" fill="#eeb414"/>
<circle cx="151.12" cy="499.12" r="0.8" fill="#eeb414"/>
<circle cx="156.93" cy="496.64" r="0.8" fill="#eeb414"/>
<circle cx="162.74" cy="492.83" r="0.8" fill="#eeb414"/>
<circle cx="168.55" cy="486.97" r="0.8" fill="#eeb414"/>
<circle cx="174.36" cy="477.98" r="0.8" fill="#eeb414"/>
<circle cx="179.34" cy="466.51" r="0.8" fill="#eeb414"/>
<rect x="43.00" y="508.00" width="90.00" height="9.00" fill="#ededed" stroke="none" stroke-width="0"/>
<text x="88.0" y="514.4" font-size="6.3" font-weight="bold" text-anchor="middle" fill="#1a1a1a">Drug B (B)</text>
<line x1="46.40" y1="517.00" x2="46.40" y2="578.80" stroke="#ececec" stroke-width="0.6"/>
<line x1="63.00" y1="517.00" x2="63.00" y2="578.80" stroke="#ececec" stroke-width="0.6"/>
<line x1="79.60" y1="517.00" x2="79.60" y2="578.80" stroke="#ececec" stroke-width="0.6"/>
<line x1="96.20" y1="517.00" x2="96.20" y2="578.80" stroke="#ececec" stroke-width="0.6"/>
<line x1="112.80" y1="517.00" x2="112.80" y2="578.80" stroke="#ececec" stroke-width="0.6"/>
<line x1="129.40" y1="517.00" x2="129.40" y2="578.80" stroke="#ececec" stroke-width="0.6"/>
<line x1="43.00" y1="576.50" x2="133.00" y2="576.50" stroke="#ececec" stroke-width="0.6"/>
<line x1="43.00" y1="556.90" x2="133.00" y2="556.90" stroke="#ececec" stroke-width="0.6"/>
<line x1="43.00" y1="537.30" x2="133.00" y2="537.30" stroke="#ececec" stroke-width="0.6"/>
<line x1="43.00" y1="517.70" x2="133.00" y2="517.70" stroke="#ececec" stroke-width="0.6"/>
<line x1="43.00" y1="517.00" x2="43.00" y2="578.80" stroke="#8c8c8c" stroke-width="0.9"/>
<line x1="41.50" y1="576.50" x2="43.00" y2="576.50" stroke="#333" stroke-width="0.8"/>
<text x="40.8" y="579.3" font-size="7.8" font-weight="bold" text-anchor="end" fill="#1a1a1a">0</text>
<line x1="41.50" y1="556.90" x2="43.00" y2="556.90" stroke="#333" stroke-width="0.8"/>
<text x="40.8" y="559.6999999999999" font-size="7.8" font-weight="bold" text-anchor="end" fill="#1a1a1a">1,000</text>
<line x1="41.50" y1="537.30" x2="43.00" y2="537.30" stroke="#333" stroke-width="0.8"/>
<text x="40.8" y="540.0999999999999" font-size="7.8" font-weight="bold" text-anchor="end" fill="#1a1a1a">2,000</text>
<line x1="41.50" y1="517.70" x2="43.00" y2="517.70" stroke="#333" stroke-width="0.8"/>
<text x="40.8" y="520.5" font-size="7.8" font-weight="bold" text-anchor="end" fill="#1a1a1a">3,000</text>
<line x1="43.00" y1="578.80" x2="133.00" y2="578.80" stroke="#8c8c8c" stroke-width="0.9"/>
<line x1="46.40" y1="578.80" x2="46.40" y2="580.30" stroke="#333" stroke-width="0.8"/>
<text x="46.4" y="586.4" font-size="7.8" font-weight="bold" text-anchor="middle" fill="#1a1a1a">0</text>
<line x1="63.00" y1="578.80" x2="63.00" y2="580.30" stroke="#333" stroke-width="0.8"/>
<text x="63.0" y="586.4" font-size="7.8" font-weight="bold" text-anchor="middle" fill="#1a1a1a">10</text>
<line x1="79.60" y1="578.80" x2="79.60" y2="580.30" stroke="#333" stroke-width="0.8"/>
<text x="79.6" y="586.4" font-size="7.8" font-weight="bold" text-anchor="middle" fill="#1a1a1a">20</text>
<line x1="96.20" y1="578.80" x2="96.20" y2="580.30" stroke="#333" stroke-width="0.8"/>
<text x="96.19999999999999" y="586.4" font-size="7.8" font-weight="bold" text-anchor="middle" fill="#1a1a1a">30</text>
<line x1="112.80" y1="578.80" x2="112.80" y2="580.30" stroke="#333" stroke-width="0.8"/>
<text x="112.79999999999998" y="586.4" font-size="7.8" font-weight="bold" text-anchor="middle" fill="#1a1a1a">40</text>
<line x1="129.40" y1="578.80" x2="129.40" y2="580.30" stroke="#333" stroke-width="0.8"/>
<text x="129.4" y="586.4" font-size="7.8" font-weight="bold" text-anchor="middle" fill="#1a1a1a">50</text>
<polyline points="46.40,574.54 52.21,573.33 58.02,571.38 63.83,568.23 69.64,563.13 75.45,554.90 81.26,541.60 86.41,523.11" fill="none" stroke="#858585" stroke-width="0.75"/>
<circle cx="46.40" cy="574.54" r="0.8" fill="#858585"/>
<circle cx="52.21" cy="573.33" r="0.8" fill="#858585"/>
<circle cx="58.02" cy="571.38" r="0.8" fill="#858585"/>
<circle cx="63.83" cy="568.23" r="0.8" fill="#858585"/>
<circle cx="69.64" cy="563.13" r="0.8" fill="#858585"/>
<circle cx="75.45" cy="554.90" r="0.8" fill="#858585"/>
<circle cx="81.26" cy="541.60" r="0.8" fill="#858585"/>
<circle cx="86.41" cy="523.11" r="0.8" fill="#858585"/>
<polyline points="46.40,574.54 52.21,573.43 58.02,571.69 63.83,568.97 69.64,564.71 75.45,558.04 81.26,547.60 86.41,533.50" fill="none" stroke="#858585" stroke-width="0.75"/>
<circle cx="46.40" cy="574.54" r="0.8" fill="#858585"/>
<circle cx="52.21" cy="573.43" r="0.8" fill="#858585"/>
<circle cx="58.02" cy="571.69" r="0.8" fill="#858585"/>
<circle cx="63.83" cy="568.97" r="0.8" fill="#858585"/>
<circle cx="69.64" cy="564.71" r="0.8" fill="#858585"/>
<circle cx="75.45" cy="558.04" r="0.8" fill="#858585"/>
<circle cx="81.26" cy="547.60" r="0.8" fill="#858585"/>
<circle cx="86.41" cy="533.50" r="0.8" fill="#858585"/>
<polyline points="46.40,574.54 52.21,573.51 58.02,571.95 63.83,569.57 69.64,565.94 75.45,560.41 81.26,551.99 87.07,539.15 92.88,519.60" fill="none" stroke="#858585" stroke-width="0.75"/>
<circle cx="46.40" cy="574.54" r="0.8" fill="#858585"/>
<circle cx="52.21" cy="573.51" r="0.8" fill="#858585"/>
<circle cx="58.02" cy="571.95" r="0.8" fill="#858585"/>
<circle cx="63.83" cy="569.57" r="0.8" fill="#858585"/>
<circle cx="69.64" cy="565.94" r="0.8" fill="#858585"/>
<circle cx="75.45" cy="560.41" r="0.8" fill="#858585"/>
<circle cx="81.26" cy="551.99" r="0.8" fill="#858585"/>
<circle cx="87.07" cy="539.15" r="0.8" fill="#858585"/>
<circle cx="92.88" cy="519.60" r="0.8" fill="#858585"/>
<polyline points="46.40,574.54 52.21,573.61 58.02,572.25 63.83,570.24 69.64,567.29 75.45,562.94 81.26,556.53 87.07,547.09 92.88,533.20" fill="none" stroke="#858585" stroke-width="0.75"/>
<circle cx="46.40" cy="574.54" r="0.8" fill="#858585"/>
<circle cx="52.21" cy="573.61" r="0.8" fill="#858585"/>
<circle cx="58.02" cy="572.25" r="0.8" fill="#858585"/>
<circle cx="63.83" cy="570.24" r="0.8" fill="#858585"/>
<circle cx="69.64" cy="567.29" r="0.8" fill="#858585"/>
<circle cx="75.45" cy="562.94" r="0.8" fill="#858585"/>
<circle cx="81.26" cy="556.53" r="0.8" fill="#858585"/>
<circle cx="87.07" cy="547.09" r="0.8" fill="#858585"/>
<circle cx="92.88" cy="533.20" r="0.8" fill="#858585"/>
<polyline points="46.40,574.54 52.21,573.71 58.02,572.52 63.83,570.82 69.64,568.40 75.45,564.95 81.26,560.04 87.07,553.03 92.88,543.03 99.52,526.30" fill="none" stroke="#858585" stroke-width="0.75"/>
<circle cx="46.40" cy="574.54" r="0.8" fill="#858585"/>
<circle cx="52.21" cy="573.71" r="0.8" fill="#858585"/>
<circle cx="58.02" cy="572.52" r="0.8" fill="#858585"/>
<circle cx="63.83" cy="570.82" r="0.8" fill="#858585"/>
<circle cx="69.64" cy="568.40" r="0.8" fill="#858585"/>
<circle cx="75.45" cy="564.95" r="0.8" fill="#858585"/>
<circle cx="81.26" cy="560.04" r="0.8" fill="#858585"/>
<circle cx="87.07" cy="553.03" r="0.8" fill="#858585"/>
<circle cx="92.88" cy="543.03" r="0.8" fill="#858585"/>
<circle cx="99.52" cy="526.30" r="0.8" fill="#858585"/>
<polyline points="46.40,574.54 52.21,573.53 58.02,571.99 63.83,569.66 69.64,566.13 75.45,560.77 81.26,552.64 87.07,540.32 92.88,521.62" fill="none" stroke="#858585" stroke-width="0.75"/>
<circle cx="46.40" cy="574.54" r="0.8" fill="#858585"/>
<circle cx="52.21" cy="573.53" r="0.8" fill="#858585"/>
<circle cx="58.02" cy="571.99" r="0.8" fill="#858585"/>
<circle cx="63.83" cy="569.66" r="0.8" fill="#858585"/>
<circle cx="69.64" cy="566.13" r="0.8" fill="#858585"/>
<circle cx="75.45" cy="560.77" r="0.8" fill="#858585"/>
<circle cx="81.26" cy="552.64" r="0.8" fill="#858585"/>
<circle cx="87.07" cy="540.32" r="0.8" fill="#858585"/>
<circle cx="92.88" cy="521.62" r="0.8" fill="#858585"/>
<polyline points="46.40,574.54 52.21,573.55 58.02,572.05 63.83,569.80 69.64,566.41 75.45,561.30 81.26,553.61 87.07,542.02 92.88,524.56" fill="none" stroke="#858585" stroke-width="0.75"/>
<circle cx="46.40" cy="574.54" r="0.8" fill="#858585"/>
<circle cx="52.21" cy="573.55" r="0.8" fill="#858585"/>
<circle cx="58.02" cy="572.05" r="0.8" fill="#858585"/>
<circle cx="63.83" cy="569.80" r="0.8" fill="#858585"/>
<circle cx="69.64" cy="566.41" r="0.8" fill="#858585"/>
<circle cx="75.45" cy="561.30" r="0.8" fill="#858585"/>
<circle cx="81.26" cy="553.61" r="0.8" fill="#858585"/>
<circle cx="87.07" cy="542.02" r="0.8" fill="#858585"/>
<circle cx="92.88" cy="524.56" r="0.8" fill="#858585"/>
<polyline points="46.40,574.54 52.21,573.57 58.02,572.12 63.83,569.95 69.64,566.70 75.45,561.85 81.26,554.59 87.07,543.73 92.88,527.50" fill="none" stroke="#858585" stroke-width="0.75"/>
<circle cx="46.40" cy="574.54" r="0.8" fill="#858585"/>
<circle cx="52.21" cy="573.57" r="0.8" fill="#858585"/>
<circle cx="58.02" cy="572.12" r="0.8" fill="#858585"/>
<circle cx="63.83" cy="569.95" r="0.8" fill="#858585"/>
<circle cx="69.64" cy="566.70" r="0.8" fill="#858585"/>
<circle cx="75.45" cy="561.85" r="0.8" fill="#858585"/>
<circle cx="81.26" cy="554.59" r="0.8" fill="#858585"/>
<circle cx="87.07" cy="543.73" r="0.8" fill="#858585"/>
<circle cx="92.88" cy="527.50" r="0.8" fill="#858585"/>
<polyline points="46.40,574.54 52.21,573.59 58.02,572.18 63.83,570.10 69.64,567.00 75.45,562.40 81.26,555.58 87.07,545.46 92.88,530.44" fill="none" stroke="#858585" stroke-width="0.75"/>
<circle cx="46.40" cy="574.54" r="0.8" fill="#858585"/>
<circle cx="52.21" cy="573.59" r="0.8" fill="#858585"/>
<circle cx="58.02" cy="572.18" r="0.8" fill="#858585"/>
<circle cx="63.83" cy="570.10" r="0.8" fill="#858585"/>
<circle cx="69.64" cy="567.00" r="0.8" fill="#858585"/>
<circle cx="75.45" cy="562.40" r="0.8" fill="#858585"/>
<circle cx="81.26" cy="555.58" r="0.8" fill="#858585"/>
<circle cx="87.07" cy="545.46" r="0.8" fill="#858585"/>
<circle cx="92.88" cy="530.44" r="0.8" fill="#858585"/>
<polyline points="46.40,574.54 52.21,573.64 58.02,572.33 63.83,570.42 69.64,567.63 75.45,563.55 81.26,557.62 87.07,548.96 92.88,536.32" fill="none" stroke="#858585" stroke-width="0.75"/>
<circle cx="46.40" cy="574.54" r="0.8" fill="#858585"/>
<circle cx="52.21" cy="573.64" r="0.8" fill="#858585"/>
<circle cx="58.02" cy="572.33" r="0.8" fill="#858585"/>
<circle cx="63.83" cy="570.42" r="0.8" fill="#858585"/>
<circle cx="69.64" cy="567.63" r="0.8" fill="#858585"/>
<circle cx="75.45" cy="563.55" r="0.8" fill="#858585"/>
<circle cx="81.26" cy="557.62" r="0.8" fill="#858585"/>
<circle cx="87.07" cy="548.96" r="0.8" fill="#858585"/>
<circle cx="92.88" cy="536.32" r="0.8" fill="#858585"/>
<rect x="135.75" y="508.00" width="91.00" height="9.00" fill="#ededed" stroke="none" stroke-width="0"/>
<text x="181.25" y="514.4" font-size="6.3" font-weight="bold" text-anchor="middle" fill="#1a1a1a">Drug A+B (A+B)</text>
<line x1="139.50" y1="517.00" x2="139.50" y2="578.80" stroke="#ececec" stroke-width="0.6"/>
<line x1="156.10" y1="517.00" x2="156.10" y2="578.80" stroke="#ececec" stroke-width="0.6"/>
<line x1="172.70" y1="517.00" x2="172.70" y2="578.80" stroke="#ececec" stroke-width="0.6"/>
<line x1="189.30" y1="517.00" x2="189.30" y2="578.80" stroke="#ececec" stroke-width="0.6"/>
<line x1="205.90" y1="517.00" x2="205.90" y2="578.80" stroke="#ececec" stroke-width="0.6"/>
<line x1="222.50" y1="517.00" x2="222.50" y2="578.80" stroke="#ececec" stroke-width="0.6"/>
<line x1="135.75" y1="576.50" x2="226.75" y2="576.50" stroke="#ececec" stroke-width="0.6"/>
<line x1="135.75" y1="556.90" x2="226.75" y2="556.90" stroke="#ececec" stroke-width="0.6"/>
<line x1="135.75" y1="537.30" x2="226.75" y2="537.30" stroke="#ececec" stroke-width="0.6"/>
<line x1="135.75" y1="517.70" x2="226.75" y2="517.70" stroke="#ececec" stroke-width="0.6"/>
<line x1="135.75" y1="578.80" x2="226.75" y2="578.80" stroke="#8c8c8c" stroke-width="0.9"/>
<line x1="139.50" y1="578.80" x2="139.50" y2="580.30" stroke="#333" stroke-width="0.8"/>
<text x="139.5" y="586.4" font-size="7.8" font-weight="bold" text-anchor="middle" fill="#1a1a1a">0</text>
<line x1="156.10" y1="578.80" x2="156.10" y2="580.30" stroke="#333" stroke-width="0.8"/>
<text x="156.1" y="586.4" font-size="7.8" font-weight="bold" text-anchor="middle" fill="#1a1a1a">10</text>
<line x1="172.70" y1="578.80" x2="172.70" y2="580.30" stroke="#333" stroke-width="0.8"/>
<text x="172.7" y="586.4" font-size="7.8" font-weight="bold" text-anchor="middle" fill="#1a1a1a">20</text>
<line x1="189.30" y1="578.80" x2="189.30" y2="580.30" stroke="#333" stroke-width="0.8"/>
<text x="189.3" y="586.4" font-size="7.8" font-weight="bold" text-anchor="middle" fill="#1a1a1a">30</text>
<line x1="205.90" y1="578.80" x2="205.90" y2="580.30" stroke="#333" stroke-width="0.8"/>
<text x="205.89999999999998" y="586.4" font-size="7.8" font-weight="bold" text-anchor="middle" fill="#1a1a1a">40</text>
<line x1="222.50" y1="578.80" x2="222.50" y2="580.30" stroke="#333" stroke-width="0.8"/>
<text x="222.5" y="586.4" font-size="7.8" font-weight="bold" text-anchor="middle" fill="#1a1a1a">50</text>
<polyline points="139.50,574.15 145.31,572.42 151.12,569.44 156.93,564.86 162.74,562.26 168.55,559.07 174.36,555.17 180.17,550.40 185.98,544.57 191.79,537.42 197.60,528.69 202.25,520.31" fill="none" stroke="#d23c3c" stroke-width="0.75"/>
<circle cx="139.50" cy="574.15" r="0.8" fill="#d23c3c"/>
<circle cx="145.31" cy="572.42" r="0.8" fill="#d23c3c"/>
<circle cx="151.12" cy="569.44" r="0.8" fill="#d23c3c"/>
<circle cx="156.93" cy="564.86" r="0.8" fill="#d23c3c"/>
<circle cx="162.74" cy="562.26" r="0.8" fill="#d23c3c"/>
<circle cx="168.55" cy="559.07" r="0.8" fill="#d23c3c"/>
<circle cx="174.36" cy="555.17" r="0.8" fill="#d23c3c"/>
<circle cx="180.17" cy="550.40" r="0.8" fill="#d23c3c"/>
<circle cx="185.98" cy="544.57" r="0.8" fill="#d23c3c"/>
<circle cx="191.79" cy="537.42" r="0.8" fill="#d23c3c"/>
<circle cx="197.60" cy="528.69" r="0.8" fill="#d23c3c"/>
<circle cx="202.25" cy="520.31" r="0.8" fill="#d23c3c"/>
<polyline points="139.50,574.15 145.31,572.80 151.12,570.67 156.93,567.67 162.74,565.93 168.55,563.84 174.36,561.34 180.17,558.34 185.98,554.75 191.79,550.45 197.60,545.31 203.41,539.14 209.22,531.76 215.53,522.09" fill="none" stroke="#d23c3c" stroke-width="0.75"/>
<circle cx="139.50" cy="574.15" r="0.8" fill="#d23c3c"/>
<circle cx="145.31" cy="572.80" r="0.8" fill="#d23c3c"/>
<circle cx="151.12" cy="570.67" r="0.8" fill="#d23c3c"/>
<circle cx="156.93" cy="567.67" r="0.8" fill="#d23c3c"/>
<circle cx="162.74" cy="565.93" r="0.8" fill="#d23c3c"/>
<circle cx="168.55" cy="563.84" r="0.8" fill="#d23c3c"/>
<circle cx="174.36" cy="561.34" r="0.8" fill="#d23c3c"/>
<circle cx="180.17" cy="558.34" r="0.8" fill="#d23c3c"/>
<circle cx="185.98" cy="554.75" r="0.8" fill="#d23c3c"/>
<circle cx="191.79" cy="550.45" r="0.8" fill="#d23c3c"/>
<circle cx="197.60" cy="545.31" r="0.8" fill="#d23c3c"/>
<circle cx="203.41" cy="539.14" r="0.8" fill="#d23c3c"/>
<circle cx="209.22" cy="531.76" r="0.8" fill="#d23c3c"/>
<circle cx="215.53" cy="522.09" r="0.8" fill="#d23c3c"/>
<polyline points="139.50,574.15 145.31,572.92 151.12,571.04 156.93,568.47 162.74,567.04 168.55,565.36 174.36,563.38 180.17,561.04 185.98,558.28 191.79,555.04 197.60,551.21 203.41,546.71 209.22,541.40 215.03,535.15 220.84,527.78 222.67,525.21" fill="none" stroke="#d23c3c" stroke-width="0.75"/>
<circle cx="139.50" cy="574.15" r="0.8" fill="#d23c3c"/>
<circle cx="145.31" cy="572.92" r="0.8" fill="#d23c3c"/>
<circle cx="151.12" cy="571.04" r="0.8" fill="#d23c3c"/>
<circle cx="156.93" cy="568.47" r="0.8" fill="#d23c3c"/>
<circle cx="162.74" cy="567.04" r="0.8" fill="#d23c3c"/>
<circle cx="168.55" cy="565.36" r="0.8" fill="#d23c3c"/>
<circle cx="174.36" cy="563.38" r="0.8" fill="#d23c3c"/>
<circle cx="180.17" cy="561.04" r="0.8" fill="#d23c3c"/>
<circle cx="185.98" cy="558.28" r="0.8" fill="#d23c3c"/>
<circle cx="191.79" cy="555.04" r="0.8" fill="#d23c3c"/>
<circle cx="197.60" cy="551.21" r="0.8" fill="#d23c3c"/>
<circle cx="203.41" cy="546.71" r="0.8" fill="#d23c3c"/>
<circle cx="209.22" cy="541.40" r="0.8" fill="#d23c3c"/>
<circle cx="215.03" cy="535.15" r="0.8" fill="#d23c3c"/>
<circle cx="220.84" cy="527.78" r="0.8" fill="#d23c3c"/>
<circle cx="222.67" cy="525.21" r="0.8" fill="#d23c3c"/>
<polyline points="139.50,574.15 145.31,573.15 151.12,571.73 156.93,569.88 162.74,568.75 168.55,567.43 174.36,565.88 180.17,564.07 185.98,561.95 191.79,559.46 197.60,556.55 203.41,553.14 209.22,549.15 215.03,544.48 220.84,539.01 222.67,537.10" fill="none" stroke="#d23c3c" stroke-width="0.75"/>
<circle cx="139.50" cy="574.15" r="0.8" fill="#d23c3c"/>
<circle cx="145.31" cy="573.15" r="0.8" fill="#d23c3c"/>
<circle cx="151.12" cy="571.73" r="0.8" fill="#d23c3c"/>
<circle cx="156.93" cy="569.88" r="0.8" fill="#d23c3c"/>
<circle cx="162.74" cy="568.75" r="0.8" fill="#d23c3c"/>
<circle cx="168.55" cy="567.43" r="0.8" fill="#d23c3c"/>
<circle cx="174.36" cy="565.88" r="0.8" fill="#d23c3c"/>
<circle cx="180.17" cy="564.07" r="0.8" fill="#d23c3c"/>
<circle cx="185.98" cy="561.95" r="0.8" fill="#d23c3c"/>
<circle cx="191.79" cy="559.46" r="0.8" fill="#d23c3c"/>
<circle cx="197.60" cy="556.55" r="0.8" fill="#d23c3c"/>
<circle cx="203.41" cy="553.14" r="0.8" fill="#d23c3c"/>
<circle cx="209.22" cy="549.15" r="0.8" fill="#d23c3c"/>
<circle cx="215.03" cy="544.48" r="0.8" fill="#d23c3c"/>
<circle cx="220.84" cy="539.01" r="0.8" fill="#d23c3c"/>
<circle cx="222.67" cy="537.10" r="0.8" fill="#d23c3c"/>
<polyline points="139.50,574.15 145.31,573.26 151.12,572.03 156.93,570.49 162.74,569.47 168.55,568.29 174.36,566.91 180.17,565.29 185.98,563.40 191.79,561.20 197.60,558.62 203.41,555.61 209.22,552.09 215.03,547.97 220.84,543.17 222.67,541.49" fill="none" stroke="#d23c3c" stroke-width="0.75"/>
<circle cx="139.50" cy="574.15" r="0.8" fill="#d23c3c"/>
<circle cx="145.31" cy="573.26" r="0.8" fill="#d23c3c"/>
<circle cx="151.12" cy="572.03" r="0.8" fill="#d23c3c"/>
<circle cx="156.93" cy="570.49" r="0.8" fill="#d23c3c"/>
<circle cx="162.74" cy="569.47" r="0.8" fill="#d23c3c"/>
<circle cx="168.55" cy="568.29" r="0.8" fill="#d23c3c"/>
<circle cx="174.36" cy="566.91" r="0.8" fill="#d23c3c"/>
<circle cx="180.17" cy="565.29" r="0.8" fill="#d23c3c"/>
<circle cx="185.98" cy="563.40" r="0.8" fill="#d23c3c"/>
<circle cx="191.79" cy="561.20" r="0.8" fill="#d23c3c"/>
<circle cx="197.60" cy="558.62" r="0.8" fill="#d23c3c"/>
<circle cx="203.41" cy="555.61" r="0.8" fill="#d23c3c"/>
<circle cx="209.22" cy="552.09" r="0.8" fill="#d23c3c"/>
<circle cx="215.03" cy="547.97" r="0.8" fill="#d23c3c"/>
<circle cx="220.84" cy="543.17" r="0.8" fill="#d23c3c"/>
<circle cx="222.67" cy="541.49" r="0.8" fill="#d23c3c"/>
<polyline points="139.50,574.15 145.31,573.26 151.12,572.03 156.93,570.49 162.74,569.50 168.55,568.35 174.36,567.02 180.17,565.46 185.98,563.64 191.79,561.53 197.60,559.07 203.41,556.21 209.22,552.87 215.03,548.99 220.84,544.47 222.67,542.91" fill="none" stroke="#d23c3c" stroke-width="0.75"/>
<circle cx="139.50" cy="574.15" r="0.8" fill="#d23c3c"/>
<circle cx="145.31" cy="573.26" r="0.8" fill="#d23c3c"/>
<circle cx="151.12" cy="572.03" r="0.8" fill="#d23c3c"/>
<circle cx="156.93" cy="570.49" r="0.8" fill="#d23c3c"/>
<circle cx="162.74" cy="569.50" r="0.8" fill="#d23c3c"/>
<circle cx="168.55" cy="568.35" r="0.8" fill="#d23c3c"/>
<circle cx="174.36" cy="567.02" r="0.8" fill="#d23c3c"/>
<circle cx="180.17" cy="565.46" r="0.8" fill="#d23c3c"/>
<circle cx="185.98" cy="563.64" r="0.8" fill="#d23c3c"/>
<circle cx="191.79" cy="561.53" r="0.8" fill="#d23c3c"/>
<circle cx="197.60" cy="559.07" r="0.8" fill="#d23c3c"/>
<circle cx="203.41" cy="556.21" r="0.8" fill="#d23c3c"/>
<circle cx="209.22" cy="552.87" r="0.8" fill="#d23c3c"/>
<circle cx="215.03" cy="548.99" r="0.8" fill="#d23c3c"/>
<circle cx="220.84" cy="544.47" r="0.8" fill="#d23c3c"/>
<circle cx="222.67" cy="542.91" r="0.8" fill="#d23c3c"/>
<polyline points="139.50,574.15 145.31,573.29 151.12,572.13 156.93,570.68 162.74,569.79 168.55,568.77 174.36,567.59 180.17,566.23 185.98,564.66 191.79,562.86 197.60,560.78 203.41,558.38 209.22,555.61 215.03,552.43 220.84,548.76 222.67,547.49" fill="none" stroke="#d23c3c" stroke-width="0.75"/>
<circle cx="139.50" cy="574.15" r="0.8" fill="#d23c3c"/>
<circle cx="145.31" cy="573.29" r="0.8" fill="#d23c3c"/>
<circle cx="151.12" cy="572.13" r="0.8" fill="#d23c3c"/>
<circle cx="156.93" cy="570.68" r="0.8" fill="#d23c3c"/>
<circle cx="162.74" cy="569.79" r="0.8" fill="#d23c3c"/>
<circle cx="168.55" cy="568.77" r="0.8" fill="#d23c3c"/>
<circle cx="174.36" cy="567.59" r="0.8" fill="#d23c3c"/>
<circle cx="180.17" cy="566.23" r="0.8" fill="#d23c3c"/>
<circle cx="185.98" cy="564.66" r="0.8" fill="#d23c3c"/>
<circle cx="191.79" cy="562.86" r="0.8" fill="#d23c3c"/>
<circle cx="197.60" cy="560.78" r="0.8" fill="#d23c3c"/>
<circle cx="203.41" cy="558.38" r="0.8" fill="#d23c3c"/>
<circle cx="209.22" cy="555.61" r="0.8" fill="#d23c3c"/>
<circle cx="215.03" cy="552.43" r="0.8" fill="#d23c3c"/>
<circle cx="220.84" cy="548.76" r="0.8" fill="#d23c3c"/>
<circle cx="222.67" cy="547.49" r="0.8" fill="#d23c3c"/>
<polyline points="139.50,574.15 145.31,573.34 151.12,572.24 156.93,570.90 162.74,570.08 168.55,569.14 174.36,568.06 180.17,566.83 185.98,565.41 191.79,563.78 197.60,561.92 203.41,559.78 209.22,557.33 215.03,554.52 220.84,551.30 222.67,550.20" fill="none" stroke="#d23c3c" stroke-width="0.75"/>
<circle cx="139.50" cy="574.15" r="0.8" fill="#d23c3c"/>
<circle cx="145.31" cy="573.34" r="0.8" fill="#d23c3c"/>
<circle cx="151.12" cy="572.24" r="0.8" fill="#d23c3c"/>
<circle cx="156.93" cy="570.90" r="0.8" fill="#d23c3c"/>
<circle cx="162.74" cy="570.08" r="0.8" fill="#d23c3c"/>
<circle cx="168.55" cy="569.14" r="0.8" fill="#d23c3c"/>
<circle cx="174.36" cy="568.06" r="0.8" fill="#d23c3c"/>
<circle cx="180.17" cy="566.83" r="0.8" fill="#d23c3c"/>
<circle cx="185.98" cy="565.41" r="0.8" fill="#d23c3c"/>
<circle cx="191.79" cy="563.78" r="0.8" fill="#d23c3c"/>
<circle cx="197.60" cy="561.92" r="0.8" fill="#d23c3c"/>
<circle cx="203.41" cy="559.78" r="0.8" fill="#d23c3c"/>
<circle cx="209.22" cy="557.33" r="0.8" fill="#d23c3c"/>
<circle cx="215.03" cy="554.52" r="0.8" fill="#d23c3c"/>
<circle cx="220.84" cy="551.30" r="0.8" fill="#d23c3c"/>
<circle cx="222.67" cy="550.20" r="0.8" fill="#d23c3c"/>
<polyline points="139.50,574.15 145.31,573.18 151.12,571.83 156.93,570.10 162.74,569.14 168.55,568.03 174.36,566.75 180.17,565.28 185.98,563.58 191.79,561.63 197.60,559.39 203.41,556.81 209.22,553.84 215.03,550.43 220.84,546.49 222.67,545.14" fill="none" stroke="#d23c3c" stroke-width="0.75"/>
<circle cx="139.50" cy="574.15" r="0.8" fill="#d23c3c"/>
<circle cx="145.31" cy="573.18" r="0.8" fill="#d23c3c"/>
<circle cx="151.12" cy="571.83" r="0.8" fill="#d23c3c"/>
<circle cx="156.93" cy="570.10" r="0.8" fill="#d23c3c"/>
<circle cx="162.74" cy="569.14" r="0.8" fill="#d23c3c"/>
<circle cx="168.55" cy="568.03" r="0.8" fill="#d23c3c"/>
<circle cx="174.36" cy="566.75" r="0.8" fill="#d23c3c"/>
<circle cx="180.17" cy="565.28" r="0.8" fill="#d23c3c"/>
<circle cx="185.98" cy="563.58" r="0.8" fill="#d23c3c"/>
<circle cx="191.79" cy="561.63" r="0.8" fill="#d23c3c"/>
<circle cx="197.60" cy="559.39" r="0.8" fill="#d23c3c"/>
<circle cx="203.41" cy="556.81" r="0.8" fill="#d23c3c"/>
<circle cx="209.22" cy="553.84" r="0.8" fill="#d23c3c"/>
<circle cx="215.03" cy="550.43" r="0.8" fill="#d23c3c"/>
<circle cx="220.84" cy="546.49" r="0.8" fill="#d23c3c"/>
<circle cx="222.67" cy="545.14" r="0.8" fill="#d23c3c"/>
<text x="0" y="0" font-size="11.384" font-weight="bold" fill="#1a1a1a" transform="translate(124.06 599.33) scale(0.9672 1)">Day</text>
<text x="0" y="0" font-size="11.337" font-weight="bold" fill="#1a1a1a" transform="translate(19.00 516.90) rotate(-90) scale(0.8260 1)">TV</text>
<text x="0" y="0" font-size="25.436" font-weight="bold" fill="#000" stroke="#000" stroke-width="0.25" transform="translate(278.12 453.20) scale(0.7522 1)">F</text>
<rect x="308.75" y="434.20" width="67.50" height="12.10" fill="#ededed" stroke="none" stroke-width="0"/>
<text x="342.5" y="443.6" font-size="8.35" font-weight="bold" text-anchor="middle" fill="#1a1a1a">T(obs)=30 days</text>
<line x1="311.82" y1="446.30" x2="311.82" y2="579.30" stroke="#ececec" stroke-width="0.6"/>
<line x1="327.16" y1="446.30" x2="327.16" y2="579.30" stroke="#ececec" stroke-width="0.6"/>
<line x1="342.50" y1="446.30" x2="342.50" y2="579.30" stroke="#ececec" stroke-width="0.6"/>
<line x1="357.84" y1="446.30" x2="357.84" y2="579.30" stroke="#ececec" stroke-width="0.6"/>
<line x1="373.18" y1="446.30" x2="373.18" y2="579.30" stroke="#ececec" stroke-width="0.6"/>
<line x1="308.75" y1="571.50" x2="376.25" y2="571.50" stroke="#ececec" stroke-width="0.6"/>
<line x1="308.75" y1="545.50" x2="376.25" y2="545.50" stroke="#ececec" stroke-width="0.6"/>
<line x1="308.75" y1="519.50" x2="376.25" y2="519.50" stroke="#ececec" stroke-width="0.6"/>
<line x1="308.75" y1="493.50" x2="376.25" y2="493.50" stroke="#ececec" stroke-width="0.6"/>
<line x1="308.75" y1="467.50" x2="376.25" y2="467.50" stroke="#ececec" stroke-width="0.6"/>
<polygon points="311.82,541.60 342.50,545.50 373.18,526.26 373.18,558.76 342.50,568.25 311.82,572.80" fill="#d3d3d3"/>
<polyline points="311.82,557.07 342.50,556.81 373.18,542.51" fill="none" stroke="#4f7fe6" stroke-width="1.1"/>
<line x1="308.75" y1="579.30" x2="376.25" y2="579.30" stroke="#666" stroke-width="1.1"/>
<line x1="311.82" y1="579.30" x2="311.82" y2="580.80" stroke="#333" stroke-width="0.8"/>
<text x="311.818" y="588.5999999999999" font-size="8.8" font-weight="bold" text-anchor="middle" fill="#1a1a1a">2</text>
<line x1="327.16" y1="579.30" x2="327.16" y2="580.80" stroke="#333" stroke-width="0.8"/>
<text x="327.158" y="588.5999999999999" font-size="8.8" font-weight="bold" text-anchor="middle" fill="#1a1a1a">4</text>
<line x1="342.50" y1="579.30" x2="342.50" y2="580.80" stroke="#333" stroke-width="0.8"/>
<text x="342.498" y="588.5999999999999" font-size="8.8" font-weight="bold" text-anchor="middle" fill="#1a1a1a">6</text>
<line x1="357.84" y1="579.30" x2="357.84" y2="580.80" stroke="#333" stroke-width="0.8"/>
<text x="357.838" y="588.5999999999999" font-size="8.8" font-weight="bold" text-anchor="middle" fill="#1a1a1a">8</text>
<line x1="373.18" y1="579.30" x2="373.18" y2="580.80" stroke="#333" stroke-width="0.8"/>
<text x="373.178" y="588.5999999999999" font-size="8.8" font-weight="bold" text-anchor="middle" fill="#1a1a1a">10</text>
<line x1="308.75" y1="446.30" x2="308.75" y2="579.30" stroke="#8c8c8c" stroke-width="1.6"/>
<line x1="307.25" y1="571.50" x2="308.75" y2="571.50" stroke="#333" stroke-width="0.8"/>
<text x="306.25" y="574.6" font-size="8.6" font-weight="bold" text-anchor="end" fill="#1a1a1a">0.2</text>
<line x1="307.25" y1="545.50" x2="308.75" y2="545.50" stroke="#333" stroke-width="0.8"/>
<text x="306.25" y="548.6" font-size="8.6" font-weight="bold" text-anchor="end" fill="#1a1a1a">0.4</text>
<line x1="307.25" y1="519.50" x2="308.75" y2="519.50" stroke="#333" stroke-width="0.8"/>
<text x="306.25" y="522.6" font-size="8.6" font-weight="bold" text-anchor="end" fill="#1a1a1a">0.6</text>
<line x1="307.25" y1="493.50" x2="308.75" y2="493.50" stroke="#333" stroke-width="0.8"/>
<text x="306.25" y="496.6" font-size="8.6" font-weight="bold" text-anchor="end" fill="#1a1a1a">0.8</text>
<line x1="307.25" y1="467.50" x2="308.75" y2="467.50" stroke="#333" stroke-width="0.8"/>
<text x="306.25" y="470.6" font-size="8.6" font-weight="bold" text-anchor="end" fill="#1a1a1a">1.0</text>
<rect x="380.10" y="434.20" width="67.50" height="12.10" fill="#ededed" stroke="none" stroke-width="0"/>
<text x="413.85" y="443.6" font-size="8.35" font-weight="bold" text-anchor="middle" fill="#1a1a1a">T(obs)=40 days</text>
<line x1="383.17" y1="446.30" x2="383.17" y2="579.30" stroke="#ececec" stroke-width="0.6"/>
<line x1="398.51" y1="446.30" x2="398.51" y2="579.30" stroke="#ececec" stroke-width="0.6"/>
<line x1="413.85" y1="446.30" x2="413.85" y2="579.30" stroke="#ececec" stroke-width="0.6"/>
<line x1="429.19" y1="446.30" x2="429.19" y2="579.30" stroke="#ececec" stroke-width="0.6"/>
<line x1="444.53" y1="446.30" x2="444.53" y2="579.30" stroke="#ececec" stroke-width="0.6"/>
<line x1="380.10" y1="571.50" x2="447.60" y2="571.50" stroke="#ececec" stroke-width="0.6"/>
<line x1="380.10" y1="545.50" x2="447.60" y2="545.50" stroke="#ececec" stroke-width="0.6"/>
<line x1="380.10" y1="519.50" x2="447.60" y2="519.50" stroke="#ececec" stroke-width="0.6"/>
<line x1="380.10" y1="493.50" x2="447.60" y2="493.50" stroke="#ececec" stroke-width="0.6"/>
<line x1="380.10" y1="467.50" x2="447.60" y2="467.50" stroke="#ececec" stroke-width="0.6"/>
<polygon points="383.17,499.87 413.85,479.46 444.53,466.59 444.53,493.50 413.85,498.70 383.17,526.65" fill="#d3d3d3"/>
<polyline points="383.17,513.00 413.85,488.95 444.53,479.46" fill="none" stroke="#4f7fe6" stroke-width="1.1"/>
<line x1="380.10" y1="579.30" x2="447.60" y2="579.30" stroke="#666" stroke-width="1.1"/>
<line x1="383.17" y1="579.30" x2="383.17" y2="580.80" stroke="#333" stroke-width="0.8"/>
<text x="383.168" y="588.5999999999999" font-size="8.8" font-weight="bold" text-anchor="middle" fill="#1a1a1a">2</text>
<line x1="398.51" y1="579.30" x2="398.51" y2="580.80" stroke="#333" stroke-width="0.8"/>
<text x="398.50800000000004" y="588.5999999999999" font-size="8.8" font-weight="bold" text-anchor="middle" fill="#1a1a1a">4</text>
<line x1="413.85" y1="579.30" x2="413.85" y2="580.80" stroke="#333" stroke-width="0.8"/>
<text x="413.848" y="588.5999999999999" font-size="8.8" font-weight="bold" text-anchor="middle" fill="#1a1a1a">6</text>
<line x1="429.19" y1="579.30" x2="429.19" y2="580.80" stroke="#333" stroke-width="0.8"/>
<text x="429.18800000000005" y="588.5999999999999" font-size="8.8" font-weight="bold" text-anchor="middle" fill="#1a1a1a">8</text>
<line x1="444.53" y1="579.30" x2="444.53" y2="580.80" stroke="#333" stroke-width="0.8"/>
<text x="444.528" y="588.5999999999999" font-size="8.8" font-weight="bold" text-anchor="middle" fill="#1a1a1a">10</text>
<rect x="451.40" y="434.20" width="67.50" height="12.10" fill="#ededed" stroke="none" stroke-width="0"/>
<text x="485.15" y="443.6" font-size="8.35" font-weight="bold" text-anchor="middle" fill="#1a1a1a">T(obs)=50 days</text>
<line x1="454.47" y1="446.30" x2="454.47" y2="579.30" stroke="#ececec" stroke-width="0.6"/>
<line x1="469.81" y1="446.30" x2="469.81" y2="579.30" stroke="#ececec" stroke-width="0.6"/>
<line x1="485.15" y1="446.30" x2="485.15" y2="579.30" stroke="#ececec" stroke-width="0.6"/>
<line x1="500.49" y1="446.30" x2="500.49" y2="579.30" stroke="#ececec" stroke-width="0.6"/>
<line x1="515.83" y1="446.30" x2="515.83" y2="579.30" stroke="#ececec" stroke-width="0.6"/>
<line x1="451.40" y1="571.50" x2="518.90" y2="571.50" stroke="#ececec" stroke-width="0.6"/>
<line x1="451.40" y1="545.50" x2="518.90" y2="545.50" stroke="#ececec" stroke-width="0.6"/>
<line x1="451.40" y1="519.50" x2="518.90" y2="519.50" stroke="#ececec" stroke-width="0.6"/>
<line x1="451.40" y1="493.50" x2="518.90" y2="493.50" stroke="#ececec" stroke-width="0.6"/>
<line x1="451.40" y1="467.50" x2="518.90" y2="467.50" stroke="#ececec" stroke-width="0.6"/>
<polygon points="454.47,483.36 485.15,471.79 515.83,453.46 515.83,481.02 485.15,490.12 454.47,510.40" fill="#d3d3d3"/>
<polyline points="454.47,496.75 485.15,479.85 515.83,467.50" fill="none" stroke="#4f7fe6" stroke-width="1.1"/>
<line x1="451.40" y1="579.30" x2="518.90" y2="579.30" stroke="#666" stroke-width="1.1"/>
<line x1="454.47" y1="579.30" x2="454.47" y2="580.80" stroke="#333" stroke-width="0.8"/>
<text x="454.46799999999996" y="588.5999999999999" font-size="8.8" font-weight="bold" text-anchor="middle" fill="#1a1a1a">2</text>
<line x1="469.81" y1="579.30" x2="469.81" y2="580.80" stroke="#333" stroke-width="0.8"/>
<text x="469.808" y="588.5999999999999" font-size="8.8" font-weight="bold" text-anchor="middle" fill="#1a1a1a">4</text>
<line x1="485.15" y1="579.30" x2="485.15" y2="580.80" stroke="#333" stroke-width="0.8"/>
<text x="485.14799999999997" y="588.5999999999999" font-size="8.8" font-weight="bold" text-anchor="middle" fill="#1a1a1a">6</text>
<line x1="500.49" y1="579.30" x2="500.49" y2="580.80" stroke="#333" stroke-width="0.8"/>
<text x="500.488" y="588.5999999999999" font-size="8.8" font-weight="bold" text-anchor="middle" fill="#1a1a1a">8</text>
<line x1="515.83" y1="579.30" x2="515.83" y2="580.80" stroke="#333" stroke-width="0.8"/>
<text x="515.828" y="588.5999999999999" font-size="8.8" font-weight="bold" text-anchor="middle" fill="#1a1a1a">10</text>
<text x="0" y="0" font-size="12.245" font-weight="bold" fill="#1a1a1a" transform="translate(408.59 603.80) scale(0.9976 1)">n</text>
<text x="0" y="0" font-size="10.182" font-weight="bold" fill="#1a1a1a" transform="translate(287.08 559.18) rotate(-90) scale(1.1476 1)">Empirical power</text>
</svg></body></html>
